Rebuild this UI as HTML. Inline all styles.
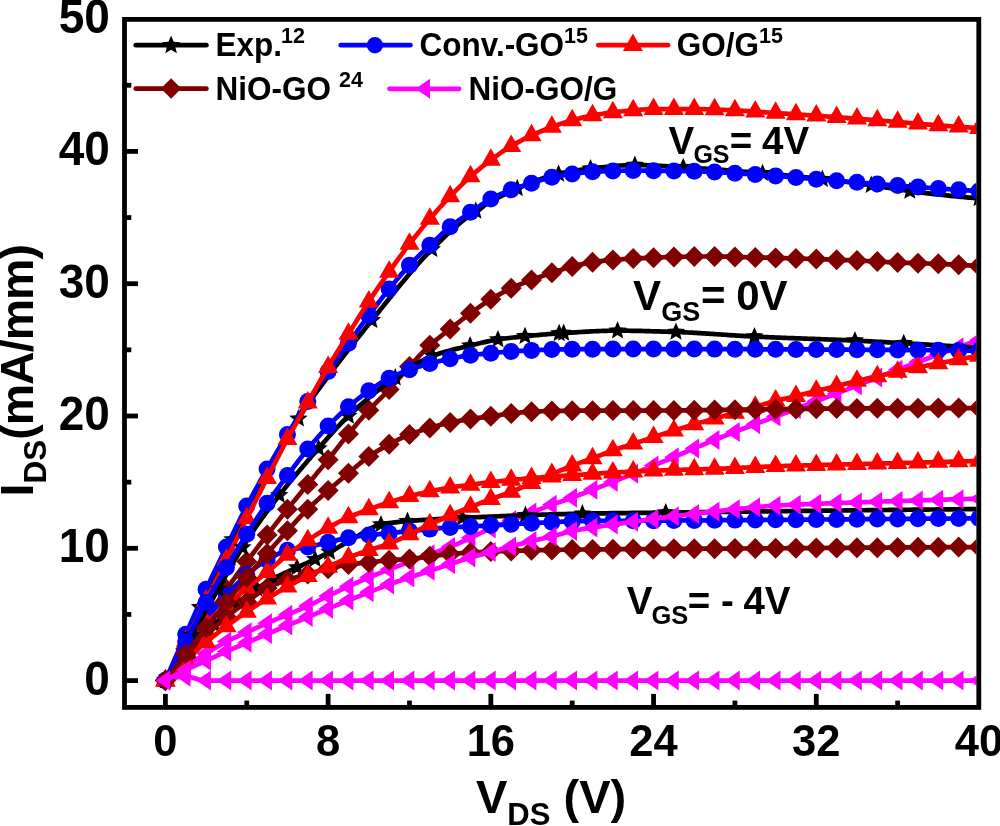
<!DOCTYPE html>
<html><head><meta charset="utf-8"><style>html,body{margin:0;padding:0;background:#fff;}svg{display:block;will-change:transform;}</style></head>
<body><svg width="1000" height="826" viewBox="0 0 1000 826">
<defs><clipPath id="pc"><rect x="126.9" y="21.8" width="849.5" height="683.2"/></clipPath></defs>
<g clip-path="url(#pc)">
<polyline points="165.40,680.60 167.43,676.24 169.47,671.88 171.50,667.53 173.54,663.19 175.57,658.85 177.60,654.52 179.64,650.20 181.67,645.88 183.71,641.57 185.74,637.27 187.77,632.97 189.81,628.68 191.84,624.40 193.88,620.12 195.91,615.85 197.94,611.59 199.98,607.33 202.01,603.08 204.05,598.84 206.08,594.61 208.11,590.37 210.15,586.12 212.18,581.86 214.22,577.60 216.25,573.33 218.28,569.07 220.32,564.81 222.35,560.56 224.39,556.32 226.42,552.10 228.45,547.89 230.49,543.70 232.52,539.53 234.56,535.39 236.59,531.28 238.62,527.20 240.66,523.15 242.69,519.15 244.73,515.18 246.76,511.26 248.79,507.36 250.83,503.47 252.86,499.59 254.90,495.71 256.93,491.85 258.96,488.01 261.00,484.18 263.03,480.36 265.07,476.57 267.10,472.79 269.13,469.04 271.17,465.31 273.20,461.61 275.24,457.94 277.27,454.30 279.30,450.69 281.34,447.11 283.37,443.57 285.41,440.07 287.44,436.60 289.47,433.18 291.51,429.80 293.54,426.46 295.58,423.17 297.61,419.93 299.64,416.74 301.68,413.61 303.71,410.53 305.75,407.50 307.78,404.52 309.81,401.58 311.85,398.68 313.88,395.81 315.92,392.97 317.95,390.16 319.98,387.37 322.02,384.59 324.05,381.82 326.09,379.06 328.12,376.31 330.15,373.56 332.19,370.84 334.22,368.13 336.26,365.44 338.29,362.76 340.32,360.10 342.36,357.45 344.39,354.82 346.43,352.20 348.46,349.59 350.49,347.00 352.53,344.42 354.56,341.84 356.60,339.28 358.63,336.73 360.66,334.18 362.70,331.65 364.73,329.12 366.77,326.59 368.80,324.08 370.83,321.56 372.87,319.05 374.90,316.52 376.94,313.98 378.97,311.44 381.00,308.89 383.04,306.35 385.07,303.80 387.11,301.25 389.14,298.71 391.17,296.17 393.21,293.64 395.24,291.11 397.28,288.60 399.31,286.10 401.34,283.61 403.38,281.14 405.41,278.69 407.45,276.26 409.48,273.85 411.51,271.47 413.55,269.10 415.58,266.77 417.62,264.47 419.65,262.19 421.68,259.95 423.72,257.74 425.75,255.57 427.79,253.44 429.82,251.35 431.85,249.30 433.89,247.28 435.92,245.26 437.96,243.26 439.99,241.28 442.02,239.30 444.06,237.35 446.09,235.42 448.13,233.51 450.16,231.63 452.19,229.77 454.23,227.95 456.26,226.15 458.30,224.39 460.33,222.66 462.36,220.97 464.40,219.32 466.43,217.72 468.47,216.16 470.50,214.64 472.53,213.17 474.57,211.76 476.60,210.39 478.64,209.06 480.67,207.75 482.70,206.47 484.74,205.22 486.77,203.99 488.81,202.79 490.84,201.61 492.87,200.46 494.91,199.33 496.94,198.22 498.98,197.14 501.01,196.09 503.04,195.05 505.08,194.04 507.11,193.05 509.15,192.09 511.18,191.15 513.21,190.22 515.25,189.32 517.28,188.44 519.32,187.58 521.35,186.72 523.38,185.86 525.42,185.02 527.45,184.18 529.49,183.36 531.52,182.55 533.55,181.76 535.59,180.98 537.62,180.22 539.66,179.48 541.69,178.77 543.72,178.07 545.76,177.41 547.79,176.77 549.83,176.16 551.86,175.57 553.89,175.03 555.93,174.51 557.96,174.03 560.00,173.58 562.03,173.14 564.06,172.73 566.10,172.32 568.13,171.93 570.17,171.56 572.20,171.20 574.23,170.85 576.27,170.52 578.30,170.20 580.34,169.90 582.37,169.61 584.40,169.34 586.44,169.08 588.47,168.83 590.51,168.60 592.54,168.37 594.57,168.14 596.61,167.91 598.64,167.68 600.68,167.45 602.71,167.23 604.74,167.01 606.78,166.79 608.81,166.58 610.85,166.38 612.88,166.18 614.91,166.00 616.95,165.83 618.98,165.67 621.02,165.52 623.05,165.40 625.08,165.28 627.12,165.19 629.15,165.12 631.19,165.07 633.22,165.03 635.25,165.03 637.29,165.04 639.32,165.06 641.36,165.10 643.39,165.14 645.42,165.20 647.46,165.27 649.49,165.35 651.53,165.43 653.56,165.53 655.59,165.63 657.63,165.73 659.66,165.84 661.70,165.96 663.73,166.08 665.76,166.21 667.80,166.33 669.83,166.46 671.87,166.59 673.90,166.71 675.93,166.84 677.97,166.97 680.00,167.09 682.04,167.21 684.07,167.32 686.10,167.44 688.14,167.56 690.17,167.68 692.21,167.81 694.24,167.93 696.27,168.06 698.31,168.19 700.34,168.33 702.38,168.47 704.41,168.60 706.44,168.75 708.48,168.89 710.51,169.03 712.55,169.18 714.58,169.33 716.61,169.48 718.65,169.63 720.68,169.79 722.72,169.94 724.75,170.10 726.78,170.26 728.82,170.42 730.85,170.58 732.89,170.74 734.92,170.91 736.95,171.07 738.99,171.24 741.02,171.40 743.06,171.57 745.09,171.74 747.12,171.91 749.16,172.08 751.19,172.26 753.23,172.43 755.26,172.60 757.29,172.78 759.33,172.95 761.36,173.12 763.40,173.30 765.43,173.48 767.46,173.66 769.50,173.84 771.53,174.02 773.57,174.21 775.60,174.40 777.63,174.59 779.67,174.78 781.70,174.97 783.74,175.17 785.77,175.36 787.80,175.56 789.84,175.76 791.87,175.97 793.91,176.17 795.94,176.38 797.97,176.58 800.01,176.79 802.04,177.00 804.08,177.22 806.11,177.43 808.14,177.64 810.18,177.86 812.21,178.08 814.25,178.30 816.28,178.52 818.31,178.74 820.35,178.96 822.38,179.18 824.42,179.41 826.45,179.63 828.48,179.86 830.52,180.09 832.55,180.32 834.59,180.56 836.62,180.79 838.65,181.03 840.69,181.27 842.72,181.51 844.76,181.75 846.79,182.00 848.82,182.24 850.86,182.49 852.89,182.75 854.93,183.00 856.96,183.26 858.99,183.52 861.03,183.78 863.06,184.05 865.10,184.32 867.13,184.59 869.16,184.86 871.20,185.14 873.23,185.42 875.27,185.72 877.30,186.02 879.33,186.34 881.37,186.66 883.40,186.99 885.44,187.32 887.47,187.66 889.50,187.99 891.54,188.33 893.57,188.66 895.61,188.99 897.64,189.32 899.67,189.64 901.71,189.95 903.74,190.25 905.78,190.54 907.81,190.82 909.84,191.09 911.88,191.35 913.91,191.60 915.95,191.86 917.98,192.11 920.01,192.36 922.05,192.61 924.08,192.86 926.12,193.10 928.15,193.35 930.18,193.59 932.22,193.82 934.25,194.06 936.29,194.29 938.32,194.52 940.35,194.75 942.39,194.97 944.42,195.19 946.46,195.41 948.49,195.62 950.52,195.83 952.56,196.04 954.59,196.24 956.63,196.44 958.66,196.64 960.69,196.83 962.73,197.02 964.76,197.20 966.80,197.38 968.83,197.56 970.86,197.73 972.90,197.89 974.93,198.06 976.97,198.21 979.00,198.37" fill="none" stroke="#000000" stroke-width="4.7" stroke-linejoin="round"/>
<polygon points="165.40,671.00 167.94,677.11 174.53,677.63 169.51,681.93 171.04,688.37 165.40,684.92 159.76,688.37 161.29,681.93 156.27,677.63 162.86,677.11" fill="#000"/>
<polygon points="199.98,597.73 202.52,603.84 209.11,604.37 204.09,608.67 205.62,615.10 199.98,611.65 194.34,615.10 195.87,608.67 190.85,604.37 197.44,603.84" fill="#000"/>
<polygon points="232.52,529.93 235.06,536.04 241.65,536.57 236.63,540.87 238.16,547.30 232.52,543.85 226.88,547.30 228.41,540.87 223.39,536.57 229.98,536.04" fill="#000"/>
<polygon points="298.42,409.05 300.96,415.15 307.55,415.68 302.53,419.98 304.07,426.41 298.42,422.97 292.78,426.41 294.32,419.98 289.29,415.68 295.88,415.15" fill="#000"/>
<polygon points="371.85,310.71 374.39,316.81 380.98,317.34 375.96,321.64 377.49,328.07 371.85,324.63 366.21,328.07 367.74,321.64 362.72,317.34 369.31,316.81" fill="#000"/>
<polygon points="431.85,239.70 434.39,245.81 440.98,246.34 435.96,250.64 437.50,257.07 431.85,253.62 426.21,257.07 427.75,250.64 422.72,246.34 429.31,245.81" fill="#000"/>
<polygon points="475.79,201.34 478.33,207.44 484.92,207.97 479.90,212.27 481.43,218.70 475.79,215.25 470.15,218.70 471.68,212.27 466.66,207.97 473.25,207.44" fill="#000"/>
<polygon points="517.28,178.84 519.82,184.95 526.41,185.48 521.39,189.78 522.92,196.21 517.28,192.76 511.64,196.21 513.17,189.78 508.15,185.48 514.74,184.95" fill="#000"/>
<polygon points="558.57,164.29 561.11,170.40 567.70,170.92 562.68,175.23 564.21,181.66 558.57,178.21 552.93,181.66 554.46,175.23 549.44,170.92 556.03,170.40" fill="#000"/>
<polygon points="590.51,159.00 593.05,165.10 599.64,165.63 594.61,169.93 596.15,176.37 590.51,172.92 584.86,176.37 586.40,169.93 581.38,165.63 587.97,165.10" fill="#000"/>
<polygon points="634.85,155.43 637.39,161.53 643.98,162.06 638.96,166.36 640.49,172.79 634.85,169.35 629.20,172.79 630.74,166.36 625.72,162.06 632.31,161.53" fill="#000"/>
<polygon points="683.26,157.68 685.80,163.78 692.39,164.31 687.36,168.61 688.90,175.04 683.26,171.60 677.61,175.04 679.15,168.61 674.13,164.31 680.72,163.78" fill="#000"/>
<polygon points="762.58,163.63 765.12,169.73 771.71,170.26 766.69,174.56 768.23,181.00 762.58,177.55 756.94,181.00 758.47,174.56 753.45,170.26 760.04,169.73" fill="#000"/>
<polygon points="822.38,169.58 824.92,175.69 831.51,176.22 826.49,180.52 828.02,186.95 822.38,183.50 816.74,186.95 818.27,180.52 813.25,176.22 819.84,175.69" fill="#000"/>
<polygon points="871.20,175.54 873.74,181.64 880.33,182.17 875.31,186.47 876.84,192.90 871.20,189.46 865.56,192.90 867.09,186.47 862.07,182.17 868.66,181.64" fill="#000"/>
<polygon points="909.84,181.49 912.38,187.60 918.97,188.12 913.95,192.42 915.49,198.86 909.84,195.41 904.20,198.86 905.74,192.42 900.71,188.12 907.30,187.60" fill="#000"/>
<polygon points="979.00,188.77 981.54,194.87 988.13,195.40 983.11,199.70 984.64,206.13 979.00,202.69 973.36,206.13 974.89,199.70 969.87,195.40 976.46,194.87" fill="#000"/>
<polyline points="165.40,680.60 167.43,675.91 169.47,671.23 171.50,666.57 173.54,661.92 175.57,657.28 177.60,652.66 179.64,648.05 181.67,643.45 183.71,638.87 185.74,634.30 187.77,629.73 189.81,625.17 191.84,620.62 193.88,616.08 195.91,611.55 197.94,607.05 199.98,602.57 202.01,598.11 204.05,593.69 206.08,589.31 208.11,584.97 210.15,580.66 212.18,576.38 214.22,572.13 216.25,567.90 218.28,563.69 220.32,559.50 222.35,555.32 224.39,551.14 226.42,546.98 228.45,542.80 230.49,538.62 232.52,534.45 234.56,530.28 236.59,526.13 238.62,522.01 240.66,517.92 242.69,513.88 244.73,509.89 246.76,505.96 248.79,502.09 250.83,498.27 252.86,494.49 254.90,490.74 256.93,487.04 258.96,483.36 261.00,479.71 263.03,476.09 265.07,472.50 267.10,468.92 269.13,465.37 271.17,461.86 273.20,458.37 275.24,454.91 277.27,451.48 279.30,448.06 281.34,444.66 283.37,441.27 285.41,437.90 287.44,434.52 289.47,431.15 291.51,427.77 293.54,424.40 295.58,421.04 297.61,417.69 299.64,414.37 301.68,411.08 303.71,407.83 305.75,404.61 307.78,401.45 309.81,398.33 311.85,395.25 313.88,392.20 315.92,389.19 317.95,386.21 319.98,383.24 322.02,380.30 324.05,377.37 326.09,374.46 328.12,371.55 330.15,368.65 332.19,365.78 334.22,362.92 336.26,360.09 338.29,357.26 340.32,354.45 342.36,351.64 344.39,348.84 346.43,346.04 348.46,343.24 350.49,340.43 352.53,337.62 354.56,334.82 356.60,332.02 358.63,329.23 360.66,326.44 362.70,323.67 364.73,320.91 366.77,318.17 368.80,315.45 370.83,312.74 372.87,310.03 374.90,307.33 376.94,304.64 378.97,301.97 381.00,299.31 383.04,296.68 385.07,294.09 387.11,291.52 389.14,288.99 391.17,286.49 393.21,284.00 395.24,281.53 397.28,279.08 399.31,276.66 401.34,274.27 403.38,271.92 405.41,269.62 407.45,267.37 409.48,265.18 411.51,263.04 413.55,260.96 415.58,258.92 417.62,256.91 419.65,254.94 421.68,253.00 423.72,251.07 425.75,249.16 427.79,247.25 429.82,245.33 431.85,243.41 433.89,241.48 435.92,239.54 437.96,237.62 439.99,235.71 442.02,233.84 444.06,232.00 446.09,230.21 448.13,228.48 450.16,226.81 452.19,225.21 454.23,223.65 456.26,222.14 458.30,220.67 460.33,219.23 462.36,217.81 464.40,216.41 466.43,215.02 468.47,213.64 470.50,212.26 472.53,210.86 474.57,209.46 476.60,208.05 478.64,206.65 480.67,205.27 482.70,203.92 484.74,202.61 486.77,201.35 488.81,200.16 490.84,199.03 492.87,197.96 494.91,196.92 496.94,195.91 498.98,194.94 501.01,194.00 503.04,193.09 505.08,192.22 507.11,191.37 509.15,190.55 511.18,189.77 513.21,189.01 515.25,188.29 517.28,187.60 519.32,186.93 521.35,186.28 523.38,185.64 525.42,185.02 527.45,184.40 529.49,183.78 531.52,183.15 533.55,182.52 535.59,181.87 537.62,181.21 539.66,180.56 541.69,179.92 543.72,179.30 545.76,178.71 547.79,178.16 549.83,177.65 551.86,177.20 553.89,176.78 555.93,176.39 557.96,176.02 560.00,175.67 562.03,175.34 564.06,175.02 566.10,174.72 568.13,174.43 570.17,174.15 572.20,173.89 574.23,173.63 576.27,173.38 578.30,173.13 580.34,172.88 582.37,172.65 584.40,172.44 586.44,172.24 588.47,172.06 590.51,171.90 592.54,171.77 594.57,171.66 596.61,171.56 598.64,171.47 600.68,171.38 602.71,171.30 604.74,171.23 606.78,171.16 608.81,171.09 610.85,171.04 612.88,170.98 614.91,170.93 616.95,170.87 618.98,170.82 621.02,170.76 623.05,170.72 625.08,170.67 627.12,170.64 629.15,170.61 631.19,170.59 633.22,170.58 635.25,170.59 637.29,170.59 639.32,170.60 641.36,170.61 643.39,170.63 645.42,170.64 647.46,170.66 649.49,170.68 651.53,170.70 653.56,170.72 655.59,170.73 657.63,170.75 659.66,170.77 661.70,170.79 663.73,170.81 665.76,170.83 667.80,170.85 669.83,170.87 671.87,170.89 673.90,170.92 675.93,170.94 677.97,170.97 680.00,171.00 682.04,171.03 684.07,171.06 686.10,171.09 688.14,171.13 690.17,171.17 692.21,171.20 694.24,171.25 696.27,171.29 698.31,171.35 700.34,171.41 702.38,171.49 704.41,171.57 706.44,171.65 708.48,171.75 710.51,171.85 712.55,171.95 714.58,172.06 716.61,172.17 718.65,172.28 720.68,172.40 722.72,172.52 724.75,172.64 726.78,172.76 728.82,172.88 730.85,173.00 732.89,173.11 734.92,173.23 736.95,173.34 738.99,173.46 741.02,173.58 743.06,173.70 745.09,173.82 747.12,173.95 749.16,174.08 751.19,174.21 753.23,174.34 755.26,174.47 757.29,174.60 759.33,174.74 761.36,174.88 763.40,175.01 765.43,175.15 767.46,175.30 769.50,175.44 771.53,175.58 773.57,175.73 775.60,175.88 777.63,176.02 779.67,176.18 781.70,176.33 783.74,176.49 785.77,176.65 787.80,176.82 789.84,176.98 791.87,177.15 793.91,177.32 795.94,177.49 797.97,177.66 800.01,177.83 802.04,178.01 804.08,178.18 806.11,178.35 808.14,178.52 810.18,178.69 812.21,178.85 814.25,179.02 816.28,179.18 818.31,179.34 820.35,179.51 822.38,179.67 824.42,179.83 826.45,179.99 828.48,180.15 830.52,180.30 832.55,180.46 834.59,180.62 836.62,180.78 838.65,180.94 840.69,181.09 842.72,181.25 844.76,181.41 846.79,181.57 848.82,181.73 850.86,181.88 852.89,182.04 854.93,182.20 856.96,182.36 858.99,182.52 861.03,182.68 863.06,182.84 865.10,183.00 867.13,183.16 869.16,183.32 871.20,183.48 873.23,183.64 875.27,183.80 877.30,183.96 879.33,184.12 881.37,184.28 883.40,184.44 885.44,184.60 887.47,184.76 889.50,184.92 891.54,185.07 893.57,185.23 895.61,185.38 897.64,185.53 899.67,185.68 901.71,185.84 903.74,185.99 905.78,186.14 907.81,186.29 909.84,186.43 911.88,186.58 913.91,186.73 915.95,186.88 917.98,187.02 920.01,187.17 922.05,187.31 924.08,187.46 926.12,187.60 928.15,187.74 930.18,187.88 932.22,188.02 934.25,188.17 936.29,188.31 938.32,188.44 940.35,188.58 942.39,188.72 944.42,188.86 946.46,188.99 948.49,189.13 950.52,189.26 952.56,189.40 954.59,189.53 956.63,189.67 958.66,189.80 960.69,189.93 962.73,190.06 964.76,190.19 966.80,190.32 968.83,190.45 970.86,190.58 972.90,190.71 974.93,190.84 976.97,190.96 979.00,191.09" fill="none" stroke="#0000ff" stroke-width="4.7" stroke-linejoin="round"/>
<circle cx="165.40" cy="680.60" r="8.5" fill="#0000ff"/>
<circle cx="185.74" cy="634.30" r="8.5" fill="#0000ff"/>
<circle cx="206.08" cy="589.31" r="8.5" fill="#0000ff"/>
<circle cx="226.42" cy="546.98" r="8.5" fill="#0000ff"/>
<circle cx="246.76" cy="505.96" r="8.5" fill="#0000ff"/>
<circle cx="267.10" cy="468.92" r="8.5" fill="#0000ff"/>
<circle cx="287.44" cy="434.52" r="8.5" fill="#0000ff"/>
<circle cx="307.78" cy="401.45" r="8.5" fill="#0000ff"/>
<circle cx="328.12" cy="371.55" r="8.5" fill="#0000ff"/>
<circle cx="348.46" cy="343.24" r="8.5" fill="#0000ff"/>
<circle cx="368.80" cy="315.45" r="8.5" fill="#0000ff"/>
<circle cx="389.14" cy="288.99" r="8.5" fill="#0000ff"/>
<circle cx="409.48" cy="265.18" r="8.5" fill="#0000ff"/>
<circle cx="429.82" cy="245.33" r="8.5" fill="#0000ff"/>
<circle cx="450.16" cy="226.81" r="8.5" fill="#0000ff"/>
<circle cx="470.50" cy="212.26" r="8.5" fill="#0000ff"/>
<circle cx="490.84" cy="199.03" r="8.5" fill="#0000ff"/>
<circle cx="511.18" cy="189.77" r="8.5" fill="#0000ff"/>
<circle cx="531.52" cy="183.15" r="8.5" fill="#0000ff"/>
<circle cx="551.86" cy="177.20" r="8.5" fill="#0000ff"/>
<circle cx="572.20" cy="173.89" r="8.5" fill="#0000ff"/>
<circle cx="592.54" cy="171.77" r="8.5" fill="#0000ff"/>
<circle cx="612.88" cy="170.98" r="8.5" fill="#0000ff"/>
<circle cx="633.22" cy="170.58" r="8.5" fill="#0000ff"/>
<circle cx="653.56" cy="170.72" r="8.5" fill="#0000ff"/>
<circle cx="673.90" cy="170.92" r="8.5" fill="#0000ff"/>
<circle cx="694.24" cy="171.25" r="8.5" fill="#0000ff"/>
<circle cx="714.58" cy="172.06" r="8.5" fill="#0000ff"/>
<circle cx="734.92" cy="173.23" r="8.5" fill="#0000ff"/>
<circle cx="755.26" cy="174.47" r="8.5" fill="#0000ff"/>
<circle cx="775.60" cy="175.88" r="8.5" fill="#0000ff"/>
<circle cx="795.94" cy="177.49" r="8.5" fill="#0000ff"/>
<circle cx="816.28" cy="179.18" r="8.5" fill="#0000ff"/>
<circle cx="836.62" cy="180.78" r="8.5" fill="#0000ff"/>
<circle cx="856.96" cy="182.36" r="8.5" fill="#0000ff"/>
<circle cx="877.30" cy="183.96" r="8.5" fill="#0000ff"/>
<circle cx="897.64" cy="185.53" r="8.5" fill="#0000ff"/>
<circle cx="917.98" cy="187.02" r="8.5" fill="#0000ff"/>
<circle cx="938.32" cy="188.44" r="8.5" fill="#0000ff"/>
<circle cx="958.66" cy="189.80" r="8.5" fill="#0000ff"/>
<circle cx="979.00" cy="191.09" r="8.5" fill="#0000ff"/>
<polyline points="165.40,680.60 167.43,676.66 169.47,672.71 171.50,668.76 173.54,664.80 175.57,660.84 177.60,656.86 179.64,652.89 181.67,648.90 183.71,644.91 185.74,640.91 187.77,636.90 189.81,632.89 191.84,628.87 193.88,624.85 195.91,620.82 197.94,616.78 199.98,612.73 202.01,608.68 204.05,604.62 206.08,600.56 208.11,596.48 210.15,592.40 212.18,588.30 214.22,584.20 216.25,580.09 218.28,575.98 220.32,571.87 222.35,567.76 224.39,563.65 226.42,559.55 228.45,555.44 230.49,551.33 232.52,547.22 234.56,543.11 236.59,539.00 238.62,534.89 240.66,530.79 242.69,526.69 244.73,522.61 246.76,518.53 248.79,514.46 250.83,510.40 252.86,506.34 254.90,502.28 256.93,498.23 258.96,494.19 261.00,490.17 263.03,486.15 265.07,482.16 267.10,478.18 269.13,474.21 271.17,470.25 273.20,466.29 275.24,462.34 277.27,458.41 279.30,454.50 281.34,450.62 283.37,446.76 285.41,442.94 287.44,439.15 289.47,435.41 291.51,431.70 293.54,428.03 295.58,424.38 297.61,420.76 299.64,417.15 301.68,413.56 303.71,409.96 305.75,406.37 307.78,402.77 309.81,399.16 311.85,395.54 313.88,391.92 315.92,388.30 317.95,384.70 319.98,381.11 322.02,377.54 324.05,374.01 326.09,370.51 328.12,367.05 330.15,363.64 332.19,360.26 334.22,356.92 336.26,353.60 338.29,350.31 340.32,347.03 342.36,343.77 344.39,340.51 346.43,337.24 348.46,333.97 350.49,330.69 352.53,327.41 354.56,324.11 356.60,320.83 358.63,317.55 360.66,314.30 362.70,311.06 364.73,307.86 366.77,304.69 368.80,301.56 370.83,298.47 372.87,295.41 374.90,292.38 376.94,289.37 378.97,286.39 381.00,283.43 383.04,280.49 385.07,277.57 387.11,274.68 389.14,271.79 391.17,268.92 393.21,266.07 395.24,263.23 397.28,260.41 399.31,257.61 401.34,254.83 403.38,252.08 405.41,249.36 407.45,246.67 409.48,244.01 411.51,241.38 413.55,238.78 415.58,236.20 417.62,233.64 419.65,231.11 421.68,228.61 423.72,226.13 425.75,223.68 427.79,221.26 429.82,218.87 431.85,216.51 433.89,214.17 435.92,211.85 437.96,209.56 439.99,207.30 442.02,205.06 444.06,202.84 446.09,200.66 448.13,198.51 450.16,196.38 452.19,194.28 454.23,192.20 456.26,190.13 458.30,188.09 460.33,186.08 462.36,184.10 464.40,182.15 466.43,180.24 468.47,178.36 470.50,176.54 472.53,174.75 474.57,172.99 476.60,171.26 478.64,169.57 480.67,167.90 482.70,166.26 484.74,164.65 486.77,163.07 488.81,161.52 490.84,160.00 492.87,158.50 494.91,157.01 496.94,155.54 498.98,154.09 501.01,152.67 503.04,151.28 505.08,149.92 507.11,148.61 509.15,147.33 511.18,146.11 513.21,144.92 515.25,143.77 517.28,142.65 519.32,141.56 521.35,140.50 523.38,139.46 525.42,138.45 527.45,137.45 529.49,136.48 531.52,135.52 533.55,134.58 535.59,133.65 537.62,132.74 539.66,131.85 541.69,130.97 543.72,130.12 545.76,129.28 547.79,128.47 549.83,127.69 551.86,126.92 553.89,126.18 555.93,125.46 557.96,124.75 560.00,124.06 562.03,123.39 564.06,122.73 566.10,122.09 568.13,121.48 570.17,120.88 572.20,120.31 574.23,119.75 576.27,119.20 578.30,118.66 580.34,118.14 582.37,117.63 584.40,117.14 586.44,116.67 588.47,116.22 590.51,115.80 592.54,115.41 594.57,115.05 596.61,114.69 598.64,114.36 600.68,114.03 602.71,113.72 604.74,113.43 606.78,113.15 608.81,112.88 610.85,112.62 612.88,112.37 614.91,112.14 616.95,111.91 618.98,111.69 621.02,111.48 623.05,111.28 625.08,111.08 627.12,110.90 629.15,110.72 631.19,110.55 633.22,110.39 635.25,110.22 637.29,110.05 639.32,109.87 641.36,109.69 643.39,109.53 645.42,109.38 647.46,109.25 649.49,109.15 651.53,109.09 653.56,109.06 655.59,109.06 657.63,109.06 659.66,109.06 661.70,109.06 663.73,109.06 665.76,109.06 667.80,109.06 669.83,109.06 671.87,109.06 673.90,109.06 675.93,109.06 677.97,109.06 680.00,109.06 682.04,109.06 684.07,109.06 686.10,109.06 688.14,109.06 690.17,109.06 692.21,109.06 694.24,109.06 696.27,109.07 698.31,109.09 700.34,109.11 702.38,109.15 704.41,109.19 706.44,109.24 708.48,109.30 710.51,109.36 712.55,109.43 714.58,109.50 716.61,109.58 718.65,109.67 720.68,109.75 722.72,109.84 724.75,109.93 726.78,110.02 728.82,110.12 730.85,110.21 732.89,110.30 734.92,110.39 736.95,110.48 738.99,110.58 741.02,110.69 743.06,110.80 745.09,110.92 747.12,111.05 749.16,111.18 751.19,111.32 753.23,111.46 755.26,111.60 757.29,111.74 759.33,111.89 761.36,112.04 763.40,112.18 765.43,112.33 767.46,112.48 769.50,112.62 771.53,112.76 773.57,112.90 775.60,113.03 777.63,113.16 779.67,113.30 781.70,113.43 783.74,113.56 785.77,113.69 787.80,113.82 789.84,113.94 791.87,114.07 793.91,114.20 795.94,114.33 797.97,114.46 800.01,114.59 802.04,114.73 804.08,114.86 806.11,114.99 808.14,115.13 810.18,115.26 812.21,115.40 814.25,115.54 816.28,115.68 818.31,115.82 820.35,115.96 822.38,116.11 824.42,116.26 826.45,116.40 828.48,116.55 830.52,116.70 832.55,116.85 834.59,117.01 836.62,117.16 838.65,117.31 840.69,117.47 842.72,117.62 844.76,117.78 846.79,117.93 848.82,118.09 850.86,118.25 852.89,118.41 854.93,118.56 856.96,118.72 858.99,118.88 861.03,119.04 863.06,119.20 865.10,119.37 867.13,119.53 869.16,119.69 871.20,119.86 873.23,120.03 875.27,120.19 877.30,120.36 879.33,120.53 881.37,120.69 883.40,120.86 885.44,121.03 887.47,121.20 889.50,121.36 891.54,121.53 893.57,121.70 895.61,121.86 897.64,122.03 899.67,122.20 901.71,122.36 903.74,122.53 905.78,122.70 907.81,122.87 909.84,123.04 911.88,123.21 913.91,123.38 915.95,123.55 917.98,123.72 920.01,123.89 922.05,124.06 924.08,124.22 926.12,124.39 928.15,124.55 930.18,124.71 932.22,124.87 934.25,125.03 936.29,125.18 938.32,125.34 940.35,125.49 942.39,125.64 944.42,125.78 946.46,125.93 948.49,126.08 950.52,126.22 952.56,126.37 954.59,126.51 956.63,126.65 958.66,126.79 960.69,126.93 962.73,127.07 964.76,127.20 966.80,127.34 968.83,127.47 970.86,127.60 972.90,127.73 974.93,127.86 976.97,127.99 979.00,128.12" fill="none" stroke="#ff0000" stroke-width="4.7" stroke-linejoin="round"/>
<polygon points="155.40,686.43 175.40,686.43 165.40,668.93" fill="#ff0000"/>
<polygon points="175.74,646.74 195.74,646.74 185.74,629.24" fill="#ff0000"/>
<polygon points="196.08,606.39 216.08,606.39 206.08,588.89" fill="#ff0000"/>
<polygon points="216.42,565.38 236.42,565.38 226.42,547.88" fill="#ff0000"/>
<polygon points="236.76,524.37 256.76,524.37 246.76,506.87" fill="#ff0000"/>
<polygon points="257.10,484.01 277.10,484.01 267.10,466.51" fill="#ff0000"/>
<polygon points="277.44,444.99 297.44,444.99 287.44,427.49" fill="#ff0000"/>
<polygon points="297.78,408.60 317.78,408.60 307.78,391.10" fill="#ff0000"/>
<polygon points="318.12,372.88 338.12,372.88 328.12,355.38" fill="#ff0000"/>
<polygon points="338.46,339.81 358.46,339.81 348.46,322.31" fill="#ff0000"/>
<polygon points="358.80,307.39 378.80,307.39 368.80,289.89" fill="#ff0000"/>
<polygon points="379.14,277.63 399.14,277.63 389.14,260.13" fill="#ff0000"/>
<polygon points="399.48,249.84 419.48,249.84 409.48,232.34" fill="#ff0000"/>
<polygon points="419.82,224.71 439.82,224.71 429.82,207.21" fill="#ff0000"/>
<polygon points="440.16,202.22 460.16,202.22 450.16,184.72" fill="#ff0000"/>
<polygon points="460.50,182.37 480.50,182.37 470.50,164.87" fill="#ff0000"/>
<polygon points="480.84,165.83 500.84,165.83 490.84,148.33" fill="#ff0000"/>
<polygon points="501.18,151.94 521.18,151.94 511.18,134.44" fill="#ff0000"/>
<polygon points="521.52,141.36 541.52,141.36 531.52,123.86" fill="#ff0000"/>
<polygon points="541.86,132.76 561.86,132.76 551.86,115.26" fill="#ff0000"/>
<polygon points="562.20,126.14 582.20,126.14 572.20,108.64" fill="#ff0000"/>
<polygon points="582.54,121.25 602.54,121.25 592.54,103.75" fill="#ff0000"/>
<polygon points="602.88,118.20 622.88,118.20 612.88,100.70" fill="#ff0000"/>
<polygon points="623.22,116.22 643.22,116.22 633.22,98.72" fill="#ff0000"/>
<polygon points="643.56,114.90 663.56,114.90 653.56,97.40" fill="#ff0000"/>
<polygon points="663.90,114.90 683.90,114.90 673.90,97.40" fill="#ff0000"/>
<polygon points="684.24,114.90 704.24,114.90 694.24,97.40" fill="#ff0000"/>
<polygon points="704.58,115.34 724.58,115.34 714.58,97.84" fill="#ff0000"/>
<polygon points="724.92,116.22 744.92,116.22 734.92,98.72" fill="#ff0000"/>
<polygon points="745.26,117.43 765.26,117.43 755.26,99.93" fill="#ff0000"/>
<polygon points="765.60,118.87 785.60,118.87 775.60,101.37" fill="#ff0000"/>
<polygon points="785.94,120.17 805.94,120.17 795.94,102.67" fill="#ff0000"/>
<polygon points="806.28,121.51 826.28,121.51 816.28,104.01" fill="#ff0000"/>
<polygon points="826.62,122.99 846.62,122.99 836.62,105.49" fill="#ff0000"/>
<polygon points="846.96,124.56 866.96,124.56 856.96,107.06" fill="#ff0000"/>
<polygon points="867.30,126.19 887.30,126.19 877.30,108.69" fill="#ff0000"/>
<polygon points="887.64,127.86 907.64,127.86 897.64,110.36" fill="#ff0000"/>
<polygon points="907.98,129.55 927.98,129.55 917.98,112.05" fill="#ff0000"/>
<polygon points="928.32,131.17 948.32,131.17 938.32,113.67" fill="#ff0000"/>
<polygon points="948.66,132.62 968.66,132.62 958.66,115.12" fill="#ff0000"/>
<polygon points="969.00,133.95 989.00,133.95 979.00,116.45" fill="#ff0000"/>
<polyline points="165.40,680.60 167.43,677.37 169.47,674.14 171.50,670.93 173.54,667.74 175.57,664.56 177.60,661.39 179.64,658.23 181.67,655.09 183.71,651.96 185.74,648.85 187.77,645.75 189.81,642.66 191.84,639.58 193.88,636.52 195.91,633.47 197.94,630.43 199.98,627.41 202.01,624.40 204.05,621.40 206.08,618.42 208.11,615.45 210.15,612.49 212.18,609.55 214.22,606.62 216.25,603.70 218.28,600.80 220.32,597.90 222.35,595.03 224.39,592.16 226.42,589.31 228.45,586.48 230.49,583.65 232.52,580.84 234.56,578.04 236.59,575.26 238.62,572.48 240.66,569.72 242.69,566.98 244.73,564.25 246.76,561.53 248.79,558.83 250.83,556.15 252.86,553.48 254.90,550.83 256.93,548.19 258.96,545.55 261.00,542.93 263.03,540.31 265.07,537.69 267.10,535.07 269.13,532.45 271.17,529.83 273.20,527.21 275.24,524.60 277.27,522.00 279.30,519.40 281.34,516.81 283.37,514.24 285.41,511.68 287.44,509.14 289.47,506.62 291.51,504.12 293.54,501.63 295.58,499.16 297.61,496.70 299.64,494.24 301.68,491.78 303.71,489.33 305.75,486.87 307.78,484.40 309.81,481.93 311.85,479.47 313.88,477.01 315.92,474.55 317.95,472.09 319.98,469.62 322.02,467.15 324.05,464.67 326.09,462.17 328.12,459.66 330.15,457.12 332.19,454.55 334.22,451.96 336.26,449.36 338.29,446.76 340.32,444.16 342.36,441.57 344.39,439.01 346.43,436.48 348.46,433.99 350.49,431.53 352.53,429.08 354.56,426.65 356.60,424.23 358.63,421.84 360.66,419.47 362.70,417.13 364.73,414.82 366.77,412.55 368.80,410.31 370.83,408.13 372.87,406.02 374.90,403.95 376.94,401.91 378.97,399.90 381.00,397.88 383.04,395.85 385.07,393.79 387.11,391.70 389.14,389.54 391.17,387.32 393.21,385.03 395.24,382.71 397.28,380.35 399.31,377.98 401.34,375.61 403.38,373.25 405.41,370.92 407.45,368.62 409.48,366.39 411.51,364.18 413.55,361.97 415.58,359.76 417.62,357.58 419.65,355.42 421.68,353.29 423.72,351.22 425.75,349.19 427.79,347.24 429.82,345.35 431.85,343.54 433.89,341.80 435.92,340.11 437.96,338.46 439.99,336.84 442.02,335.26 444.06,333.68 446.09,332.11 448.13,330.54 450.16,328.95 452.19,327.35 454.23,325.75 456.26,324.15 458.30,322.57 460.33,320.99 462.36,319.42 464.40,317.87 466.43,316.34 468.47,314.83 470.50,313.34 472.53,311.86 474.57,310.38 476.60,308.91 478.64,307.45 480.67,306.02 482.70,304.60 484.74,303.22 486.77,301.87 488.81,300.57 490.84,299.31 492.87,298.09 494.91,296.90 496.94,295.73 498.98,294.58 501.01,293.47 503.04,292.38 505.08,291.32 507.11,290.29 509.15,289.29 511.18,288.33 513.21,287.40 515.25,286.50 517.28,285.62 519.32,284.77 521.35,283.94 523.38,283.13 525.42,282.33 527.45,281.54 529.49,280.77 531.52,280.00 533.55,279.23 535.59,278.48 537.62,277.75 539.66,277.02 541.69,276.30 543.72,275.60 545.76,274.90 547.79,274.21 549.83,273.53 551.86,272.85 553.89,272.17 555.93,271.49 557.96,270.81 560.00,270.14 562.03,269.47 564.06,268.82 566.10,268.20 568.13,267.60 570.17,267.03 572.20,266.50 574.23,266.00 576.27,265.51 578.30,265.03 580.34,264.57 582.37,264.13 584.40,263.71 586.44,263.31 588.47,262.94 590.51,262.59 592.54,262.27 594.57,261.97 596.61,261.68 598.64,261.41 600.68,261.15 602.71,260.91 604.74,260.68 606.78,260.46 608.81,260.25 610.85,260.06 612.88,259.89 614.91,259.72 616.95,259.57 618.98,259.42 621.02,259.28 623.05,259.15 625.08,259.02 627.12,258.90 629.15,258.79 631.19,258.67 633.22,258.56 635.25,258.46 637.29,258.35 639.32,258.25 641.36,258.15 643.39,258.06 645.42,257.97 647.46,257.88 649.49,257.80 651.53,257.72 653.56,257.64 655.59,257.56 657.63,257.49 659.66,257.41 661.70,257.34 663.73,257.27 665.76,257.21 667.80,257.14 669.83,257.08 671.87,257.03 673.90,256.98 675.93,256.93 677.97,256.88 680.00,256.83 682.04,256.78 684.07,256.74 686.10,256.70 688.14,256.66 690.17,256.63 692.21,256.60 694.24,256.58 696.27,256.56 698.31,256.54 700.34,256.52 702.38,256.50 704.41,256.49 706.44,256.47 708.48,256.46 710.51,256.45 712.55,256.45 714.58,256.45 716.61,256.46 718.65,256.49 720.68,256.53 722.72,256.58 724.75,256.65 726.78,256.72 728.82,256.79 730.85,256.86 732.89,256.92 734.92,256.98 736.95,257.02 738.99,257.07 741.02,257.12 743.06,257.17 745.09,257.21 747.12,257.26 749.16,257.30 751.19,257.34 753.23,257.39 755.26,257.43 757.29,257.48 759.33,257.52 761.36,257.57 763.40,257.61 765.43,257.66 767.46,257.70 769.50,257.75 771.53,257.80 773.57,257.85 775.60,257.90 777.63,257.95 779.67,258.01 781.70,258.06 783.74,258.12 785.77,258.17 787.80,258.23 789.84,258.29 791.87,258.34 793.91,258.40 795.94,258.46 797.97,258.52 800.01,258.58 802.04,258.65 804.08,258.71 806.11,258.77 808.14,258.83 810.18,258.90 812.21,258.96 814.25,259.03 816.28,259.09 818.31,259.16 820.35,259.22 822.38,259.29 824.42,259.36 826.45,259.43 828.48,259.49 830.52,259.56 832.55,259.63 834.59,259.70 836.62,259.77 838.65,259.85 840.69,259.92 842.72,259.99 844.76,260.07 846.79,260.15 848.82,260.22 850.86,260.30 852.89,260.38 854.93,260.46 856.96,260.55 858.99,260.63 861.03,260.72 863.06,260.82 865.10,260.92 867.13,261.02 869.16,261.12 871.20,261.23 873.23,261.34 875.27,261.44 877.30,261.55 879.33,261.66 881.37,261.77 883.40,261.87 885.44,261.98 887.47,262.08 889.50,262.18 891.54,262.27 893.57,262.36 895.61,262.45 897.64,262.53 899.67,262.61 901.71,262.68 903.74,262.75 905.78,262.82 907.81,262.88 909.84,262.95 911.88,263.01 913.91,263.07 915.95,263.13 917.98,263.18 920.01,263.24 922.05,263.30 924.08,263.36 926.12,263.42 928.15,263.49 930.18,263.55 932.22,263.62 934.25,263.70 936.29,263.77 938.32,263.86 940.35,263.94 942.39,264.03 944.42,264.12 946.46,264.22 948.49,264.31 950.52,264.41 952.56,264.52 954.59,264.63 956.63,264.74 958.66,264.85 960.69,264.96 962.73,265.08 964.76,265.20 966.80,265.32 968.83,265.45 970.86,265.58 972.90,265.71 974.93,265.84 976.97,265.97 979.00,266.10" fill="none" stroke="#800000" stroke-width="4.7" stroke-linejoin="round"/>
<polygon points="165.40,670.10 175.90,680.60 165.40,691.10 154.90,680.60" fill="#800000"/>
<polygon points="185.74,638.35 196.24,648.85 185.74,659.35 175.24,648.85" fill="#800000"/>
<polygon points="206.08,607.92 216.58,618.42 206.08,628.92 195.58,618.42" fill="#800000"/>
<polygon points="226.42,578.81 236.92,589.31 226.42,599.81 215.92,589.31" fill="#800000"/>
<polygon points="246.76,551.03 257.26,561.53 246.76,572.03 236.26,561.53" fill="#800000"/>
<polygon points="267.10,524.57 277.60,535.07 267.10,545.57 256.60,535.07" fill="#800000"/>
<polygon points="287.44,498.64 297.94,509.14 287.44,519.64 276.94,509.14" fill="#800000"/>
<polygon points="307.78,473.90 318.28,484.40 307.78,494.90 297.28,484.40" fill="#800000"/>
<polygon points="328.12,449.16 338.62,459.66 328.12,470.16 317.62,459.66" fill="#800000"/>
<polygon points="348.46,423.49 358.96,433.99 348.46,444.49 337.96,433.99" fill="#800000"/>
<polygon points="368.80,399.81 379.30,410.31 368.80,420.81 358.30,410.31" fill="#800000"/>
<polygon points="389.14,379.04 399.64,389.54 389.14,400.04 378.64,389.54" fill="#800000"/>
<polygon points="409.48,355.89 419.98,366.39 409.48,376.89 398.98,366.39" fill="#800000"/>
<polygon points="429.82,334.85 440.32,345.35 429.82,355.85 419.32,345.35" fill="#800000"/>
<polygon points="450.16,318.45 460.66,328.95 450.16,339.45 439.66,328.95" fill="#800000"/>
<polygon points="470.50,302.84 481.00,313.34 470.50,323.84 460.00,313.34" fill="#800000"/>
<polygon points="490.84,288.81 501.34,299.31 490.84,309.81 480.34,299.31" fill="#800000"/>
<polygon points="511.18,277.83 521.68,288.33 511.18,298.83 500.68,288.33" fill="#800000"/>
<polygon points="531.52,269.50 542.02,280.00 531.52,290.50 521.02,280.00" fill="#800000"/>
<polygon points="551.86,262.35 562.36,272.85 551.86,283.35 541.36,272.85" fill="#800000"/>
<polygon points="572.20,256.00 582.70,266.50 572.20,277.00 561.70,266.50" fill="#800000"/>
<polygon points="592.54,251.77 603.04,262.27 592.54,272.77 582.04,262.27" fill="#800000"/>
<polygon points="612.88,249.39 623.38,259.89 612.88,270.39 602.38,259.89" fill="#800000"/>
<polygon points="633.22,248.06 643.72,258.56 633.22,269.06 622.72,258.56" fill="#800000"/>
<polygon points="653.56,247.14 664.06,257.64 653.56,268.14 643.06,257.64" fill="#800000"/>
<polygon points="673.90,246.48 684.40,256.98 673.90,267.48 663.40,256.98" fill="#800000"/>
<polygon points="694.24,246.08 704.74,256.58 694.24,267.08 683.74,256.58" fill="#800000"/>
<polygon points="714.58,245.95 725.08,256.45 714.58,266.95 704.08,256.45" fill="#800000"/>
<polygon points="734.92,246.48 745.42,256.98 734.92,267.48 724.42,256.98" fill="#800000"/>
<polygon points="755.26,246.93 765.76,257.43 755.26,267.93 744.76,257.43" fill="#800000"/>
<polygon points="775.60,247.40 786.10,257.90 775.60,268.40 765.10,257.90" fill="#800000"/>
<polygon points="795.94,247.96 806.44,258.46 795.94,268.96 785.44,258.46" fill="#800000"/>
<polygon points="816.28,248.59 826.78,259.09 816.28,269.59 805.78,259.09" fill="#800000"/>
<polygon points="836.62,249.27 847.12,259.77 836.62,270.27 826.12,259.77" fill="#800000"/>
<polygon points="856.96,250.05 867.46,260.55 856.96,271.05 846.46,260.55" fill="#800000"/>
<polygon points="877.30,251.05 887.80,261.55 877.30,272.05 866.80,261.55" fill="#800000"/>
<polygon points="897.64,252.03 908.14,262.53 897.64,273.03 887.14,262.53" fill="#800000"/>
<polygon points="917.98,252.68 928.48,263.18 917.98,273.68 907.48,263.18" fill="#800000"/>
<polygon points="938.32,253.36 948.82,263.86 938.32,274.36 927.82,263.86" fill="#800000"/>
<polygon points="958.66,254.35 969.16,264.85 958.66,275.35 948.16,264.85" fill="#800000"/>
<polygon points="979.00,255.60 989.50,266.10 979.00,276.60 968.50,266.10" fill="#800000"/>
<polyline points="165.40,680.60 167.43,679.05 169.47,677.52 171.50,676.01 173.54,674.52 175.57,673.05 177.60,671.60 179.64,670.18 181.67,668.78 183.71,667.40 185.74,666.05 187.77,664.72 189.81,663.43 191.84,662.16 193.88,660.91 195.91,659.68 197.94,658.46 199.98,657.25 202.01,656.04 204.05,654.83 206.08,653.61 208.11,652.38 210.15,651.13 212.18,649.87 214.22,648.62 216.25,647.37 218.28,646.14 220.32,644.94 222.35,643.77 224.39,642.65 226.42,641.57 228.45,640.55 230.49,639.56 232.52,638.61 234.56,637.69 236.59,636.78 238.62,635.89 240.66,635.00 242.69,634.12 244.73,633.22 246.76,632.31 248.79,631.39 250.83,630.47 252.86,629.54 254.90,628.62 256.93,627.70 258.96,626.78 261.00,625.87 263.03,624.96 265.07,624.07 267.10,623.18 269.13,622.31 271.17,621.45 273.20,620.60 275.24,619.76 277.27,618.92 279.30,618.09 281.34,617.25 283.37,616.41 285.41,615.57 287.44,614.71 289.47,613.86 291.51,613.01 293.54,612.15 295.58,611.30 297.61,610.44 299.64,609.58 301.68,608.70 303.71,607.81 305.75,606.91 307.78,605.98 309.81,605.03 311.85,604.05 313.88,603.05 315.92,602.04 317.95,601.01 319.98,599.98 322.02,598.95 324.05,597.93 326.09,596.92 328.12,595.93 330.15,594.95 332.19,593.98 334.22,593.01 336.26,592.05 338.29,591.09 340.32,590.14 342.36,589.19 344.39,588.26 346.43,587.32 348.46,586.40 350.49,585.49 352.53,584.58 354.56,583.67 356.60,582.77 358.63,581.88 360.66,580.99 362.70,580.12 364.73,579.25 366.77,578.39 368.80,577.54 370.83,576.70 372.87,575.87 374.90,575.05 376.94,574.24 378.97,573.43 381.00,572.63 383.04,571.84 385.07,571.04 387.11,570.26 389.14,569.47 391.17,568.68 393.21,567.91 395.24,567.13 397.28,566.36 399.31,565.60 401.34,564.84 403.38,564.07 405.41,563.31 407.45,562.55 409.48,561.79 411.51,561.03 413.55,560.27 415.58,559.51 417.62,558.76 419.65,558.00 421.68,557.24 423.72,556.49 425.75,555.74 427.79,555.00 429.82,554.25 431.85,553.52 433.89,552.81 435.92,552.10 437.96,551.40 439.99,550.69 442.02,549.99 444.06,549.26 446.09,548.53 448.13,547.77 450.16,546.98 452.19,546.16 454.23,545.31 456.26,544.44 458.30,543.54 460.33,542.62 462.36,541.69 464.40,540.74 466.43,539.78 468.47,538.82 470.50,537.84 472.53,536.87 474.57,535.89 476.60,534.92 478.64,533.96 480.67,533.00 482.70,532.06 484.74,531.13 486.77,530.21 488.81,529.32 490.84,528.46 492.87,527.61 494.91,526.77 496.94,525.94 498.98,525.12 501.01,524.31 503.04,523.50 505.08,522.71 507.11,521.91 509.15,521.13 511.18,520.35 513.21,519.57 515.25,518.79 517.28,518.02 519.32,517.24 521.35,516.47 523.38,515.70 525.42,514.92 527.45,514.14 529.49,513.36 531.52,512.58 533.55,511.79 535.59,511.00 537.62,510.21 539.66,509.42 541.69,508.63 543.72,507.84 545.76,507.06 547.79,506.29 549.83,505.53 551.86,504.77 553.89,504.04 555.93,503.31 557.96,502.60 560.00,501.90 562.03,501.20 564.06,500.50 566.10,499.80 568.13,499.09 570.17,498.37 572.20,497.63 574.23,496.88 576.27,496.11 578.30,495.34 580.34,494.56 582.37,493.78 584.40,492.99 586.44,492.20 588.47,491.40 590.51,490.61 592.54,489.82 594.57,489.04 596.61,488.25 598.64,487.46 600.68,486.67 602.71,485.87 604.74,485.08 606.78,484.28 608.81,483.49 610.85,482.69 612.88,481.89 614.91,481.08 616.95,480.28 618.98,479.48 621.02,478.67 623.05,477.87 625.08,477.06 627.12,476.25 629.15,475.44 631.19,474.63 633.22,473.82 635.25,473.01 637.29,472.20 639.32,471.38 641.36,470.56 643.39,469.74 645.42,468.92 647.46,468.10 649.49,467.27 651.53,466.44 653.56,465.61 655.59,464.78 657.63,463.94 659.66,463.10 661.70,462.26 663.73,461.41 665.76,460.57 667.80,459.71 669.83,458.86 671.87,458.00 673.90,457.15 675.93,456.28 677.97,455.41 680.00,454.54 682.04,453.66 684.07,452.78 686.10,451.90 688.14,451.02 690.17,450.15 692.21,449.28 694.24,448.41 696.27,447.55 698.31,446.70 700.34,445.84 702.38,444.99 704.41,444.14 706.44,443.29 708.48,442.45 710.51,441.61 712.55,440.78 714.58,439.95 716.61,439.12 718.65,438.30 720.68,437.48 722.72,436.67 724.75,435.86 726.78,435.06 728.82,434.25 730.85,433.46 732.89,432.66 734.92,431.88 736.95,431.09 738.99,430.32 741.02,429.55 743.06,428.78 745.09,428.02 747.12,427.25 749.16,426.49 751.19,425.73 753.23,424.97 755.26,424.20 757.29,423.44 759.33,422.67 761.36,421.90 763.40,421.13 765.43,420.37 767.46,419.60 769.50,418.83 771.53,418.06 773.57,417.30 775.60,416.53 777.63,415.76 779.67,415.00 781.70,414.23 783.74,413.47 785.77,412.70 787.80,411.94 789.84,411.17 791.87,410.41 793.91,409.65 795.94,408.88 797.97,408.12 800.01,407.36 802.04,406.60 804.08,405.83 806.11,405.07 808.14,404.30 810.18,403.54 812.21,402.77 814.25,402.01 816.28,401.24 818.31,400.47 820.35,399.70 822.38,398.93 824.42,398.16 826.45,397.39 828.48,396.62 830.52,395.84 832.55,395.07 834.59,394.29 836.62,393.51 838.65,392.73 840.69,391.94 842.72,391.15 844.76,390.36 846.79,389.57 848.82,388.77 850.86,387.98 852.89,387.18 854.93,386.38 856.96,385.58 858.99,384.77 861.03,383.97 863.06,383.17 865.10,382.36 867.13,381.56 869.16,380.76 871.20,379.96 873.23,379.15 875.27,378.35 877.30,377.55 879.33,376.76 881.37,375.96 883.40,375.17 885.44,374.38 887.47,373.59 889.50,372.80 891.54,372.02 893.57,371.24 895.61,370.47 897.64,369.69 899.67,368.93 901.71,368.16 903.74,367.39 905.78,366.63 907.81,365.86 909.84,365.10 911.88,364.34 913.91,363.58 915.95,362.82 917.98,362.06 920.01,361.30 922.05,360.55 924.08,359.79 926.12,359.04 928.15,358.28 930.18,357.53 932.22,356.78 934.25,356.04 936.29,355.29 938.32,354.54 940.35,353.80 942.39,353.06 944.42,352.31 946.46,351.57 948.49,350.84 950.52,350.10 952.56,349.36 954.59,348.63 956.63,347.89 958.66,347.16 960.69,346.43 962.73,345.70 964.76,344.98 966.80,344.25 968.83,343.53 970.86,342.80 972.90,342.08 974.93,341.36 976.97,340.64 979.00,339.93" fill="none" stroke="#ff00ff" stroke-width="4.7" stroke-linejoin="round"/>
<polygon points="170.23,670.60 170.23,690.60 155.73,680.60" fill="#ff00ff"/>
<polygon points="190.57,656.05 190.57,676.05 176.07,666.05" fill="#ff00ff"/>
<polygon points="210.91,643.61 210.91,663.61 196.41,653.61" fill="#ff00ff"/>
<polygon points="231.25,631.57 231.25,651.57 216.75,641.57" fill="#ff00ff"/>
<polygon points="251.59,622.31 251.59,642.31 237.09,632.31" fill="#ff00ff"/>
<polygon points="271.93,613.18 271.93,633.18 257.43,623.18" fill="#ff00ff"/>
<polygon points="292.27,604.71 292.27,624.71 277.77,614.71" fill="#ff00ff"/>
<polygon points="312.61,595.98 312.61,615.98 298.11,605.98" fill="#ff00ff"/>
<polygon points="332.95,585.93 332.95,605.93 318.45,595.93" fill="#ff00ff"/>
<polygon points="353.29,576.40 353.29,596.40 338.79,586.40" fill="#ff00ff"/>
<polygon points="373.63,567.54 373.63,587.54 359.13,577.54" fill="#ff00ff"/>
<polygon points="393.97,559.47 393.97,579.47 379.47,569.47" fill="#ff00ff"/>
<polygon points="414.31,551.79 414.31,571.79 399.81,561.79" fill="#ff00ff"/>
<polygon points="434.65,544.25 434.65,564.25 420.15,554.25" fill="#ff00ff"/>
<polygon points="454.99,536.98 454.99,556.98 440.49,546.98" fill="#ff00ff"/>
<polygon points="475.33,527.84 475.33,547.84 460.83,537.84" fill="#ff00ff"/>
<polygon points="495.67,518.46 495.67,538.46 481.17,528.46" fill="#ff00ff"/>
<polygon points="516.01,510.35 516.01,530.35 501.51,520.35" fill="#ff00ff"/>
<polygon points="536.35,502.58 536.35,522.58 521.85,512.58" fill="#ff00ff"/>
<polygon points="556.69,494.77 556.69,514.77 542.19,504.77" fill="#ff00ff"/>
<polygon points="577.03,487.63 577.03,507.63 562.53,497.63" fill="#ff00ff"/>
<polygon points="597.37,479.82 597.37,499.82 582.87,489.82" fill="#ff00ff"/>
<polygon points="617.71,471.89 617.71,491.89 603.21,481.89" fill="#ff00ff"/>
<polygon points="638.05,463.82 638.05,483.82 623.55,473.82" fill="#ff00ff"/>
<polygon points="658.39,455.61 658.39,475.61 643.89,465.61" fill="#ff00ff"/>
<polygon points="678.73,447.15 678.73,467.15 664.23,457.15" fill="#ff00ff"/>
<polygon points="699.07,438.41 699.07,458.41 684.57,448.41" fill="#ff00ff"/>
<polygon points="719.41,429.95 719.41,449.95 704.91,439.95" fill="#ff00ff"/>
<polygon points="739.75,421.88 739.75,441.88 725.25,431.88" fill="#ff00ff"/>
<polygon points="760.09,414.20 760.09,434.20 745.59,424.20" fill="#ff00ff"/>
<polygon points="780.43,406.53 780.43,426.53 765.93,416.53" fill="#ff00ff"/>
<polygon points="800.77,398.88 800.77,418.88 786.27,408.88" fill="#ff00ff"/>
<polygon points="821.11,391.24 821.11,411.24 806.61,401.24" fill="#ff00ff"/>
<polygon points="841.45,383.51 841.45,403.51 826.95,393.51" fill="#ff00ff"/>
<polygon points="861.79,375.58 861.79,395.58 847.29,385.58" fill="#ff00ff"/>
<polygon points="882.13,367.55 882.13,387.55 867.63,377.55" fill="#ff00ff"/>
<polygon points="902.47,359.69 902.47,379.69 887.97,369.69" fill="#ff00ff"/>
<polygon points="922.81,352.06 922.81,372.06 908.31,362.06" fill="#ff00ff"/>
<polygon points="943.15,344.54 943.15,364.54 928.65,354.54" fill="#ff00ff"/>
<polygon points="963.49,337.16 963.49,357.16 948.99,347.16" fill="#ff00ff"/>
<polygon points="983.83,329.93 983.83,349.93 969.33,339.93" fill="#ff00ff"/>
<polyline points="165.40,680.60 167.43,677.97 169.47,675.35 171.50,672.77 173.54,670.21 175.57,667.67 177.60,665.16 179.64,662.67 181.67,660.22 183.71,657.78 185.74,655.38 187.77,653.00 189.81,650.66 191.84,648.34 193.88,646.05 195.91,643.79 197.94,641.57 199.98,639.37 202.01,637.20 204.05,635.07 206.08,632.97 208.11,630.90 210.15,628.83 212.18,626.79 214.22,624.76 216.25,622.75 218.28,620.77 220.32,618.80 222.35,616.86 224.39,614.94 226.42,613.05 228.45,611.19 230.49,609.36 232.52,607.56 234.56,605.79 236.59,604.05 238.62,602.35 240.66,600.69 242.69,599.06 244.73,597.47 246.76,595.93 248.79,594.42 250.83,592.94 252.86,591.49 254.90,590.07 256.93,588.68 258.96,587.32 261.00,586.00 263.03,584.70 265.07,583.44 267.10,582.21 269.13,581.02 271.17,579.86 273.20,578.73 275.24,577.64 277.27,576.60 279.30,575.59 281.34,574.61 283.37,573.65 285.41,572.72 287.44,571.80 289.47,570.88 291.51,569.97 293.54,569.06 295.58,568.14 297.61,567.20 299.64,566.28 301.68,565.36 303.71,564.46 305.75,563.55 307.78,562.65 309.81,561.73 311.85,560.81 313.88,559.86 315.92,558.89 317.95,557.90 319.98,556.90 322.02,555.88 324.05,554.85 326.09,553.81 328.12,552.75 330.15,551.68 332.19,550.59 334.22,549.47 336.26,548.34 338.29,547.19 340.32,546.04 342.36,544.89 344.39,543.74 346.43,542.60 348.46,541.47 350.49,540.36 352.53,539.23 354.56,538.04 356.60,536.80 358.63,535.54 360.66,534.26 362.70,532.99 364.73,531.74 366.77,530.53 368.80,529.37 370.83,528.28 372.87,527.28 374.90,526.39 376.94,525.61 378.97,524.97 381.00,524.49 383.04,524.10 385.07,523.74 387.11,523.42 389.14,523.12 391.17,522.85 393.21,522.59 395.24,522.36 397.28,522.14 399.31,521.93 401.34,521.73 403.38,521.55 405.41,521.36 407.45,521.18 409.48,521.00 411.51,520.83 413.55,520.66 415.58,520.50 417.62,520.35 419.65,520.20 421.68,520.05 423.72,519.91 425.75,519.78 427.79,519.65 429.82,519.52 431.85,519.40 433.89,519.28 435.92,519.16 437.96,519.04 439.99,518.93 442.02,518.82 444.06,518.71 446.09,518.61 448.13,518.51 450.16,518.42 452.19,518.32 454.23,518.23 456.26,518.14 458.30,518.05 460.33,517.96 462.36,517.87 464.40,517.78 466.43,517.69 468.47,517.60 470.50,517.50 472.53,517.41 474.57,517.32 476.60,517.23 478.64,517.14 480.67,517.04 482.70,516.95 484.74,516.86 486.77,516.77 488.81,516.68 490.84,516.59 492.87,516.50 494.91,516.41 496.94,516.33 498.98,516.24 501.01,516.15 503.04,516.07 505.08,515.99 507.11,515.90 509.15,515.82 511.18,515.74 513.21,515.66 515.25,515.59 517.28,515.51 519.32,515.44 521.35,515.36 523.38,515.29 525.42,515.23 527.45,515.16 529.49,515.09 531.52,515.02 533.55,514.96 535.59,514.89 537.62,514.82 539.66,514.76 541.69,514.69 543.72,514.63 545.76,514.56 547.79,514.50 549.83,514.44 551.86,514.38 553.89,514.32 555.93,514.26 557.96,514.21 560.00,514.15 562.03,514.09 564.06,514.04 566.10,513.99 568.13,513.94 570.17,513.89 572.20,513.84 574.23,513.80 576.27,513.76 578.30,513.71 580.34,513.67 582.37,513.64 584.40,513.60 586.44,513.57 588.47,513.53 590.51,513.50 592.54,513.47 594.57,513.44 596.61,513.41 598.64,513.38 600.68,513.35 602.71,513.32 604.74,513.29 606.78,513.26 608.81,513.24 610.85,513.21 612.88,513.18 614.91,513.16 616.95,513.13 618.98,513.11 621.02,513.09 623.05,513.06 625.08,513.04 627.12,513.02 629.15,512.99 631.19,512.97 633.22,512.95 635.25,512.93 637.29,512.90 639.32,512.88 641.36,512.86 643.39,512.84 645.42,512.81 647.46,512.79 649.49,512.77 651.53,512.75 653.56,512.72 655.59,512.70 657.63,512.68 659.66,512.65 661.70,512.63 663.73,512.60 665.76,512.58 667.80,512.55 669.83,512.53 671.87,512.50 673.90,512.48 675.93,512.45 677.97,512.43 680.00,512.40 682.04,512.38 684.07,512.35 686.10,512.33 688.14,512.30 690.17,512.28 692.21,512.25 694.24,512.23 696.27,512.20 698.31,512.18 700.34,512.15 702.38,512.13 704.41,512.10 706.44,512.08 708.48,512.05 710.51,512.03 712.55,512.01 714.58,511.98 716.61,511.96 718.65,511.93 720.68,511.91 722.72,511.88 724.75,511.86 726.78,511.83 728.82,511.81 730.85,511.78 732.89,511.76 734.92,511.74 736.95,511.71 738.99,511.69 741.02,511.66 743.06,511.64 745.09,511.61 747.12,511.59 749.16,511.57 751.19,511.54 753.23,511.52 755.26,511.49 757.29,511.47 759.33,511.45 761.36,511.42 763.40,511.40 765.43,511.37 767.46,511.35 769.50,511.33 771.53,511.30 773.57,511.28 775.60,511.26 777.63,511.23 779.67,511.21 781.70,511.19 783.74,511.16 785.77,511.14 787.80,511.11 789.84,511.09 791.87,511.07 793.91,511.04 795.94,511.02 797.97,511.00 800.01,510.97 802.04,510.95 804.08,510.93 806.11,510.90 808.14,510.88 810.18,510.86 812.21,510.83 814.25,510.81 816.28,510.79 818.31,510.77 820.35,510.74 822.38,510.72 824.42,510.70 826.45,510.67 828.48,510.65 830.52,510.63 832.55,510.60 834.59,510.58 836.62,510.56 838.65,510.53 840.69,510.51 842.72,510.49 844.76,510.47 846.79,510.44 848.82,510.42 850.86,510.40 852.89,510.37 854.93,510.35 856.96,510.33 858.99,510.31 861.03,510.28 863.06,510.26 865.10,510.24 867.13,510.21 869.16,510.19 871.20,510.17 873.23,510.15 875.27,510.12 877.30,510.10 879.33,510.08 881.37,510.06 883.40,510.03 885.44,510.01 887.47,509.99 889.50,509.97 891.54,509.94 893.57,509.92 895.61,509.90 897.64,509.88 899.67,509.86 901.71,509.83 903.74,509.81 905.78,509.79 907.81,509.77 909.84,509.74 911.88,509.72 913.91,509.70 915.95,509.68 917.98,509.66 920.01,509.63 922.05,509.61 924.08,509.59 926.12,509.57 928.15,509.55 930.18,509.52 932.22,509.50 934.25,509.48 936.29,509.46 938.32,509.44 940.35,509.41 942.39,509.39 944.42,509.37 946.46,509.35 948.49,509.33 950.52,509.31 952.56,509.28 954.59,509.26 956.63,509.24 958.66,509.22 960.69,509.20 962.73,509.18 964.76,509.16 966.80,509.13 968.83,509.11 970.86,509.09 972.90,509.07 974.93,509.05 976.97,509.03 979.00,509.01" fill="none" stroke="#000000" stroke-width="4.7" stroke-linejoin="round"/>
<polygon points="165.40,671.00 167.94,677.11 174.53,677.63 169.51,681.93 171.04,688.37 165.40,684.92 159.76,688.37 161.29,681.93 156.27,677.63 162.86,677.11" fill="#000"/>
<polygon points="189.81,641.06 192.35,647.16 198.94,647.69 193.92,651.99 195.45,658.42 189.81,654.98 184.17,658.42 185.70,651.99 180.68,647.69 187.27,647.16" fill="#000"/>
<polygon points="214.22,615.16 216.76,621.27 223.35,621.79 218.32,626.10 219.86,632.53 214.22,629.08 208.57,632.53 210.11,626.10 205.09,621.79 211.68,621.27" fill="#000"/>
<polygon points="238.62,592.75 241.16,598.86 247.75,599.39 242.73,603.69 244.27,610.12 238.62,606.67 232.98,610.12 234.52,603.69 229.49,599.39 236.08,598.86" fill="#000"/>
<polygon points="256.93,579.08 259.47,585.18 266.06,585.71 261.04,590.01 262.57,596.44 256.93,593.00 251.29,596.44 252.82,590.01 247.80,585.71 254.39,585.18" fill="#000"/>
<polygon points="273.20,569.13 275.74,575.23 282.33,575.76 277.31,580.06 278.84,586.50 273.20,583.05 267.56,586.50 269.09,580.06 264.07,575.76 270.66,575.23" fill="#000"/>
<polygon points="297.00,557.88 299.54,563.99 306.13,564.52 301.11,568.82 302.64,575.25 297.00,571.80 291.36,575.25 292.89,568.82 287.87,564.52 294.46,563.99" fill="#000"/>
<polygon points="315.10,549.68 317.64,555.79 324.23,556.31 319.21,560.62 320.75,567.05 315.10,563.60 309.46,567.05 310.99,560.62 305.97,556.31 312.56,555.79" fill="#000"/>
<polygon points="329.54,542.40 332.08,548.51 338.67,549.04 333.65,553.34 335.19,559.77 329.54,556.32 323.90,559.77 325.44,553.34 320.41,549.04 327.00,548.51" fill="#000"/>
<polygon points="381.00,514.89 383.54,520.99 390.13,521.52 385.11,525.82 386.65,532.25 381.00,528.81 375.36,532.25 376.90,525.82 371.87,521.52 378.46,520.99" fill="#000"/>
<polygon points="407.45,511.58 409.99,517.68 416.58,518.21 411.55,522.51 413.09,528.95 407.45,525.50 401.80,528.95 403.34,522.51 398.32,518.21 404.91,517.68" fill="#000"/>
<polygon points="462.36,508.27 464.90,514.38 471.49,514.90 466.47,519.21 468.01,525.64 462.36,522.19 456.72,525.64 458.26,519.21 453.23,514.90 459.82,514.38" fill="#000"/>
<polygon points="525.42,505.62 527.96,511.73 534.55,512.26 529.53,516.56 531.06,522.99 525.42,519.55 519.78,522.99 521.31,516.56 516.29,512.26 522.88,511.73" fill="#000"/>
<polygon points="582.37,504.04 584.91,510.14 591.50,510.67 586.48,514.97 588.01,521.40 582.37,517.96 576.73,521.40 578.26,514.97 573.24,510.67 579.83,510.14" fill="#000"/>
<polygon points="665.76,502.98 668.30,509.08 674.89,509.61 669.87,513.91 671.41,520.35 665.76,516.90 660.12,520.35 661.66,513.91 656.63,509.61 663.22,509.08" fill="#000"/>
<polygon points="755.26,501.89 757.80,508.00 764.39,508.53 759.37,512.83 760.90,519.26 755.26,515.81 749.62,519.26 751.15,512.83 746.13,508.53 752.72,508.00" fill="#000"/>
<polyline points="165.40,680.60 167.43,677.31 169.47,674.04 171.50,670.79 173.54,667.58 175.57,664.39 177.60,661.22 179.64,658.09 181.67,654.98 183.71,651.90 185.74,648.85 187.77,645.81 189.81,642.78 191.84,639.77 193.88,636.78 195.91,633.82 197.94,630.90 199.98,628.02 202.01,625.20 204.05,622.44 206.08,619.74 208.11,617.10 210.15,614.51 212.18,611.95 214.22,609.44 216.25,606.97 218.28,604.54 220.32,602.16 222.35,599.82 224.39,597.52 226.42,595.27 228.45,593.04 230.49,590.83 232.52,588.64 234.56,586.49 236.59,584.37 238.62,582.31 240.66,580.31 242.69,578.38 244.73,576.53 246.76,574.76 248.79,573.06 250.83,571.39 252.86,569.77 254.90,568.19 256.93,566.66 258.96,565.19 261.00,563.78 263.03,562.43 265.07,561.15 267.10,559.94 269.13,558.77 271.17,557.60 273.20,556.45 275.24,555.33 277.27,554.27 279.30,553.27 281.34,552.36 283.37,551.55 285.41,550.85 287.44,550.28 289.47,549.83 291.51,549.43 293.54,549.09 295.58,548.78 297.61,548.50 299.64,548.22 301.68,547.95 303.71,547.66 305.75,547.34 307.78,546.98 309.81,546.58 311.85,546.15 313.88,545.70 315.92,545.24 317.95,544.76 319.98,544.27 322.02,543.78 324.05,543.30 326.09,542.82 328.12,542.35 330.15,541.87 332.19,541.38 334.22,540.88 336.26,540.37 338.29,539.87 340.32,539.39 342.36,538.92 344.39,538.48 346.43,538.08 348.46,537.72 350.49,537.39 352.53,537.08 354.56,536.79 356.60,536.51 358.63,536.24 360.66,535.99 362.70,535.75 364.73,535.52 366.77,535.29 368.80,535.07 370.83,534.86 372.87,534.66 374.90,534.47 376.94,534.29 378.97,534.12 381.00,533.95 383.04,533.77 385.07,533.59 387.11,533.41 389.14,533.22 391.17,533.02 393.21,532.81 395.24,532.60 397.28,532.38 399.31,532.17 401.34,531.95 403.38,531.73 405.41,531.52 407.45,531.31 409.48,531.10 411.51,530.90 413.55,530.69 415.58,530.49 417.62,530.28 419.65,530.08 421.68,529.88 423.72,529.69 425.75,529.49 427.79,529.30 429.82,529.12 431.85,528.93 433.89,528.74 435.92,528.55 437.96,528.36 439.99,528.18 442.02,528.00 444.06,527.83 446.09,527.67 448.13,527.53 450.16,527.40 452.19,527.28 454.23,527.18 456.26,527.09 458.30,527.00 460.33,526.91 462.36,526.83 464.40,526.75 466.43,526.66 468.47,526.57 470.50,526.47 472.53,526.36 474.57,526.25 476.60,526.13 478.64,526.00 480.67,525.88 482.70,525.75 484.74,525.62 486.77,525.50 488.81,525.39 490.84,525.28 492.87,525.18 494.91,525.08 496.94,524.99 498.98,524.90 501.01,524.82 503.04,524.73 505.08,524.64 507.11,524.55 509.15,524.45 511.18,524.35 513.21,524.25 515.25,524.13 517.28,524.01 519.32,523.88 521.35,523.76 523.38,523.63 525.42,523.51 527.45,523.39 529.49,523.27 531.52,523.16 533.55,523.06 535.59,522.96 537.62,522.87 539.66,522.78 541.69,522.69 543.72,522.60 545.76,522.51 547.79,522.42 549.83,522.33 551.86,522.24 553.89,522.14 555.93,522.03 557.96,521.92 560.00,521.81 562.03,521.70 564.06,521.59 566.10,521.50 568.13,521.42 570.17,521.35 572.20,521.31 574.23,521.28 576.27,521.25 578.30,521.22 580.34,521.19 582.37,521.16 584.40,521.14 586.44,521.11 588.47,521.09 590.51,521.07 592.54,521.05 594.57,521.02 596.61,521.00 598.64,520.98 600.68,520.97 602.71,520.95 604.74,520.93 606.78,520.91 608.81,520.90 610.85,520.88 612.88,520.87 614.91,520.85 616.95,520.84 618.98,520.83 621.02,520.82 623.05,520.80 625.08,520.79 627.12,520.78 629.15,520.77 631.19,520.76 633.22,520.75 635.25,520.74 637.29,520.72 639.32,520.71 641.36,520.70 643.39,520.69 645.42,520.68 647.46,520.67 649.49,520.66 651.53,520.65 653.56,520.64 655.59,520.63 657.63,520.62 659.66,520.61 661.70,520.60 663.73,520.58 665.76,520.57 667.80,520.56 669.83,520.54 671.87,520.53 673.90,520.52 675.93,520.50 677.97,520.49 680.00,520.47 682.04,520.46 684.07,520.45 686.10,520.43 688.14,520.42 690.17,520.41 692.21,520.39 694.24,520.38 696.27,520.37 698.31,520.35 700.34,520.34 702.38,520.33 704.41,520.31 706.44,520.30 708.48,520.29 710.51,520.27 712.55,520.26 714.58,520.25 716.61,520.24 718.65,520.22 720.68,520.21 722.72,520.20 724.75,520.19 726.78,520.17 728.82,520.16 730.85,520.15 732.89,520.13 734.92,520.12 736.95,520.11 738.99,520.10 741.02,520.08 743.06,520.07 745.09,520.06 747.12,520.05 749.16,520.03 751.19,520.02 753.23,520.01 755.26,519.99 757.29,519.98 759.33,519.97 761.36,519.95 763.40,519.94 765.43,519.93 767.46,519.91 769.50,519.90 771.53,519.88 773.57,519.87 775.60,519.86 777.63,519.84 779.67,519.83 781.70,519.81 783.74,519.80 785.77,519.78 787.80,519.77 789.84,519.75 791.87,519.74 793.91,519.73 795.94,519.71 797.97,519.70 800.01,519.68 802.04,519.67 804.08,519.65 806.11,519.64 808.14,519.62 810.18,519.61 812.21,519.59 814.25,519.58 816.28,519.56 818.31,519.55 820.35,519.53 822.38,519.52 824.42,519.50 826.45,519.49 828.48,519.47 830.52,519.46 832.55,519.44 834.59,519.43 836.62,519.41 838.65,519.40 840.69,519.38 842.72,519.37 844.76,519.35 846.79,519.34 848.82,519.32 850.86,519.31 852.89,519.29 854.93,519.28 856.96,519.26 858.99,519.24 861.03,519.23 863.06,519.21 865.10,519.20 867.13,519.18 869.16,519.17 871.20,519.15 873.23,519.14 875.27,519.12 877.30,519.10 879.33,519.09 881.37,519.07 883.40,519.06 885.44,519.04 887.47,519.02 889.50,519.01 891.54,518.99 893.57,518.98 895.61,518.96 897.64,518.94 899.67,518.93 901.71,518.91 903.74,518.89 905.78,518.88 907.81,518.86 909.84,518.85 911.88,518.83 913.91,518.81 915.95,518.80 917.98,518.78 920.01,518.76 922.05,518.75 924.08,518.73 926.12,518.71 928.15,518.70 930.18,518.68 932.22,518.66 934.25,518.65 936.29,518.63 938.32,518.61 940.35,518.60 942.39,518.58 944.42,518.56 946.46,518.55 948.49,518.53 950.52,518.51 952.56,518.49 954.59,518.48 956.63,518.46 958.66,518.44 960.69,518.43 962.73,518.41 964.76,518.39 966.80,518.37 968.83,518.36 970.86,518.34 972.90,518.32 974.93,518.30 976.97,518.29 979.00,518.27" fill="none" stroke="#0000ff" stroke-width="4.7" stroke-linejoin="round"/>
<circle cx="165.40" cy="680.60" r="8.5" fill="#0000ff"/>
<circle cx="185.74" cy="648.85" r="8.5" fill="#0000ff"/>
<circle cx="206.08" cy="619.74" r="8.5" fill="#0000ff"/>
<circle cx="226.42" cy="595.27" r="8.5" fill="#0000ff"/>
<circle cx="246.76" cy="574.76" r="8.5" fill="#0000ff"/>
<circle cx="267.10" cy="559.94" r="8.5" fill="#0000ff"/>
<circle cx="287.44" cy="550.28" r="8.5" fill="#0000ff"/>
<circle cx="307.78" cy="546.98" r="8.5" fill="#0000ff"/>
<circle cx="328.12" cy="542.35" r="8.5" fill="#0000ff"/>
<circle cx="348.46" cy="537.72" r="8.5" fill="#0000ff"/>
<circle cx="368.80" cy="535.07" r="8.5" fill="#0000ff"/>
<circle cx="389.14" cy="533.22" r="8.5" fill="#0000ff"/>
<circle cx="409.48" cy="531.10" r="8.5" fill="#0000ff"/>
<circle cx="429.82" cy="529.12" r="8.5" fill="#0000ff"/>
<circle cx="450.16" cy="527.40" r="8.5" fill="#0000ff"/>
<circle cx="470.50" cy="526.47" r="8.5" fill="#0000ff"/>
<circle cx="490.84" cy="525.28" r="8.5" fill="#0000ff"/>
<circle cx="511.18" cy="524.35" r="8.5" fill="#0000ff"/>
<circle cx="531.52" cy="523.16" r="8.5" fill="#0000ff"/>
<circle cx="551.86" cy="522.24" r="8.5" fill="#0000ff"/>
<circle cx="572.20" cy="521.31" r="8.5" fill="#0000ff"/>
<circle cx="592.54" cy="521.05" r="8.5" fill="#0000ff"/>
<circle cx="612.88" cy="520.87" r="8.5" fill="#0000ff"/>
<circle cx="633.22" cy="520.75" r="8.5" fill="#0000ff"/>
<circle cx="653.56" cy="520.64" r="8.5" fill="#0000ff"/>
<circle cx="673.90" cy="520.52" r="8.5" fill="#0000ff"/>
<circle cx="694.24" cy="520.38" r="8.5" fill="#0000ff"/>
<circle cx="714.58" cy="520.25" r="8.5" fill="#0000ff"/>
<circle cx="734.92" cy="520.12" r="8.5" fill="#0000ff"/>
<circle cx="755.26" cy="519.99" r="8.5" fill="#0000ff"/>
<circle cx="775.60" cy="519.86" r="8.5" fill="#0000ff"/>
<circle cx="795.94" cy="519.71" r="8.5" fill="#0000ff"/>
<circle cx="816.28" cy="519.56" r="8.5" fill="#0000ff"/>
<circle cx="836.62" cy="519.41" r="8.5" fill="#0000ff"/>
<circle cx="856.96" cy="519.26" r="8.5" fill="#0000ff"/>
<circle cx="877.30" cy="519.10" r="8.5" fill="#0000ff"/>
<circle cx="897.64" cy="518.94" r="8.5" fill="#0000ff"/>
<circle cx="917.98" cy="518.78" r="8.5" fill="#0000ff"/>
<circle cx="938.32" cy="518.61" r="8.5" fill="#0000ff"/>
<circle cx="958.66" cy="518.44" r="8.5" fill="#0000ff"/>
<circle cx="979.00" cy="518.27" r="8.5" fill="#0000ff"/>
<polyline points="165.40,680.60 167.43,677.41 169.47,674.26 171.50,671.13 173.54,668.04 175.57,664.98 177.60,661.95 179.64,658.95 181.67,655.99 183.71,653.06 185.74,650.17 187.77,647.27 189.81,644.32 191.84,641.37 193.88,638.44 195.91,635.56 197.94,632.76 199.98,630.06 202.01,627.51 204.05,625.11 206.08,622.92 208.11,620.91 210.15,619.03 212.18,617.28 214.22,615.61 216.25,614.00 218.28,612.42 220.32,610.86 222.35,609.28 224.39,607.67 226.42,605.98 228.45,604.24 230.49,602.48 232.52,600.71 234.56,598.93 236.59,597.14 238.62,595.36 240.66,593.59 242.69,591.83 244.73,590.09 246.76,588.39 248.79,586.71 250.83,585.07 252.86,583.44 254.90,581.83 256.93,580.23 258.96,578.63 261.00,577.02 263.03,575.41 265.07,573.77 267.10,572.11 269.13,570.42 271.17,568.69 273.20,566.93 275.24,565.17 277.27,563.39 279.30,561.63 281.34,559.89 283.37,558.19 285.41,556.52 287.44,554.91 289.47,553.35 291.51,551.82 293.54,550.30 295.58,548.82 297.61,547.35 299.64,545.91 301.68,544.49 303.71,543.10 305.75,541.72 307.78,540.36 309.81,539.02 311.85,537.69 313.88,536.38 315.92,535.09 317.95,533.82 319.98,532.57 322.02,531.34 324.05,530.13 326.09,528.95 328.12,527.79 330.15,526.66 332.19,525.53 334.22,524.43 336.26,523.34 338.29,522.27 340.32,521.22 342.36,520.21 344.39,519.22 346.43,518.26 348.46,517.34 350.49,516.46 352.53,515.60 354.56,514.77 356.60,513.96 358.63,513.18 360.66,512.40 362.70,511.64 364.73,510.89 366.77,510.15 368.80,509.40 370.83,508.66 372.87,507.93 374.90,507.21 376.94,506.50 378.97,505.79 381.00,505.09 383.04,504.41 385.07,503.73 387.11,503.06 389.14,502.39 391.17,501.73 393.21,501.07 395.24,500.42 397.28,499.77 399.31,499.13 401.34,498.51 403.38,497.89 405.41,497.30 407.45,496.73 409.48,496.17 411.51,495.64 413.55,495.12 415.58,494.62 417.62,494.13 419.65,493.65 421.68,493.18 423.72,492.72 425.75,492.28 427.79,491.84 429.82,491.41 431.85,490.99 433.89,490.57 435.92,490.16 437.96,489.76 439.99,489.36 442.02,488.98 444.06,488.61 446.09,488.25 448.13,487.90 450.16,487.57 452.19,487.26 454.23,486.96 456.26,486.67 458.30,486.39 460.33,486.12 462.36,485.85 464.40,485.59 466.43,485.33 468.47,485.06 470.50,484.80 472.53,484.52 474.57,484.25 476.60,483.97 478.64,483.70 480.67,483.43 482.70,483.16 484.74,482.90 486.77,482.64 488.81,482.39 490.84,482.15 492.87,481.92 494.91,481.69 496.94,481.47 498.98,481.26 501.01,481.04 503.04,480.84 505.08,480.63 507.11,480.43 509.15,480.23 511.18,480.03 513.21,479.84 515.25,479.64 517.28,479.45 519.32,479.26 521.35,479.07 523.38,478.89 525.42,478.71 527.45,478.53 529.49,478.35 531.52,478.18 533.55,478.01 535.59,477.84 537.62,477.68 539.66,477.51 541.69,477.35 543.72,477.20 545.76,477.04 547.79,476.89 549.83,476.74 551.86,476.59 553.89,476.45 555.93,476.31 557.96,476.18 560.00,476.05 562.03,475.92 564.06,475.79 566.10,475.66 568.13,475.53 570.17,475.40 572.20,475.27 574.23,475.14 576.27,475.00 578.30,474.86 580.34,474.73 582.37,474.59 584.40,474.45 586.44,474.30 588.47,474.16 590.51,474.02 592.54,473.88 594.57,473.75 596.61,473.61 598.64,473.48 600.68,473.34 602.71,473.22 604.74,473.09 606.78,472.97 608.81,472.85 610.85,472.73 612.88,472.62 614.91,472.52 616.95,472.41 618.98,472.31 621.02,472.20 623.05,472.10 625.08,472.00 627.12,471.90 629.15,471.80 631.19,471.70 633.22,471.61 635.25,471.51 637.29,471.42 639.32,471.32 641.36,471.23 643.39,471.14 645.42,471.05 647.46,470.97 649.49,470.88 651.53,470.80 653.56,470.72 655.59,470.63 657.63,470.55 659.66,470.48 661.70,470.40 663.73,470.33 665.76,470.25 667.80,470.18 669.83,470.11 671.87,470.04 673.90,469.98 675.93,469.92 677.97,469.86 680.00,469.80 682.04,469.74 684.07,469.69 686.10,469.64 688.14,469.59 690.17,469.54 692.21,469.50 694.24,469.45 696.27,469.40 698.31,469.36 700.34,469.31 702.38,469.26 704.41,469.21 706.44,469.15 708.48,469.10 710.51,469.04 712.55,468.98 714.58,468.92 716.61,468.85 718.65,468.78 720.68,468.71 722.72,468.63 724.75,468.54 726.78,468.46 728.82,468.37 730.85,468.28 732.89,468.19 734.92,468.09 736.95,468.00 738.99,467.90 741.02,467.80 743.06,467.71 745.09,467.61 747.12,467.51 749.16,467.41 751.19,467.31 753.23,467.21 755.26,467.12 757.29,467.02 759.33,466.93 761.36,466.84 763.40,466.75 765.43,466.66 767.46,466.58 769.50,466.49 771.53,466.42 773.57,466.34 775.60,466.27 777.63,466.21 779.67,466.14 781.70,466.08 783.74,466.01 785.77,465.95 787.80,465.89 789.84,465.83 791.87,465.77 793.91,465.71 795.94,465.65 797.97,465.59 800.01,465.54 802.04,465.48 804.08,465.43 806.11,465.37 808.14,465.32 810.18,465.27 812.21,465.21 814.25,465.16 816.28,465.11 818.31,465.06 820.35,465.01 822.38,464.96 824.42,464.91 826.45,464.86 828.48,464.81 830.52,464.76 832.55,464.71 834.59,464.66 836.62,464.62 838.65,464.57 840.69,464.52 842.72,464.47 844.76,464.42 846.79,464.38 848.82,464.33 850.86,464.28 852.89,464.23 854.93,464.18 856.96,464.13 858.99,464.08 861.03,464.04 863.06,463.99 865.10,463.94 867.13,463.89 869.16,463.84 871.20,463.78 873.23,463.73 875.27,463.68 877.30,463.63 879.33,463.58 881.37,463.52 883.40,463.47 885.44,463.42 887.47,463.36 889.50,463.31 891.54,463.26 893.57,463.20 895.61,463.15 897.64,463.10 899.67,463.05 901.71,462.99 903.74,462.94 905.78,462.89 907.81,462.83 909.84,462.78 911.88,462.73 913.91,462.68 915.95,462.62 917.98,462.57 920.01,462.52 922.05,462.46 924.08,462.41 926.12,462.36 928.15,462.31 930.18,462.25 932.22,462.20 934.25,462.15 936.29,462.09 938.32,462.04 940.35,461.99 942.39,461.93 944.42,461.88 946.46,461.83 948.49,461.78 950.52,461.72 952.56,461.67 954.59,461.62 956.63,461.56 958.66,461.51 960.69,461.46 962.73,461.41 964.76,461.35 966.80,461.30 968.83,461.25 970.86,461.19 972.90,461.14 974.93,461.09 976.97,461.03 979.00,460.98" fill="none" stroke="#ff0000" stroke-width="4.7" stroke-linejoin="round"/>
<polygon points="155.40,686.43 175.40,686.43 165.40,668.93" fill="#ff0000"/>
<polygon points="175.74,656.00 195.74,656.00 185.74,638.50" fill="#ff0000"/>
<polygon points="196.08,628.75 216.08,628.75 206.08,611.25" fill="#ff0000"/>
<polygon points="216.42,611.82 236.42,611.82 226.42,594.32" fill="#ff0000"/>
<polygon points="236.76,594.22 256.76,594.22 246.76,576.72" fill="#ff0000"/>
<polygon points="257.10,577.95 277.10,577.95 267.10,560.45" fill="#ff0000"/>
<polygon points="277.44,560.75 297.44,560.75 287.44,543.25" fill="#ff0000"/>
<polygon points="297.78,546.20 317.78,546.20 307.78,528.70" fill="#ff0000"/>
<polygon points="318.12,533.63 338.12,533.63 328.12,516.13" fill="#ff0000"/>
<polygon points="338.46,523.18 358.46,523.18 348.46,505.68" fill="#ff0000"/>
<polygon points="358.80,515.24 378.80,515.24 368.80,497.74" fill="#ff0000"/>
<polygon points="379.14,508.23 399.14,508.23 389.14,490.73" fill="#ff0000"/>
<polygon points="399.48,502.01 419.48,502.01 409.48,484.51" fill="#ff0000"/>
<polygon points="419.82,497.24 439.82,497.24 429.82,479.74" fill="#ff0000"/>
<polygon points="440.16,493.41 460.16,493.41 450.16,475.91" fill="#ff0000"/>
<polygon points="460.50,490.63 480.50,490.63 470.50,473.13" fill="#ff0000"/>
<polygon points="480.84,487.98 500.84,487.98 490.84,470.48" fill="#ff0000"/>
<polygon points="501.18,485.87 521.18,485.87 511.18,468.37" fill="#ff0000"/>
<polygon points="521.52,484.01 541.52,484.01 531.52,466.51" fill="#ff0000"/>
<polygon points="541.86,482.43 561.86,482.43 551.86,464.93" fill="#ff0000"/>
<polygon points="562.20,481.10 582.20,481.10 572.20,463.60" fill="#ff0000"/>
<polygon points="582.54,479.72 602.54,479.72 592.54,462.22" fill="#ff0000"/>
<polygon points="602.88,478.46 622.88,478.46 612.88,460.96" fill="#ff0000"/>
<polygon points="623.22,477.44 643.22,477.44 633.22,459.94" fill="#ff0000"/>
<polygon points="643.56,476.55 663.56,476.55 653.56,459.05" fill="#ff0000"/>
<polygon points="663.90,475.81 683.90,475.81 673.90,458.31" fill="#ff0000"/>
<polygon points="684.24,475.28 704.24,475.28 694.24,457.78" fill="#ff0000"/>
<polygon points="704.58,474.75 724.58,474.75 714.58,457.25" fill="#ff0000"/>
<polygon points="724.92,473.93 744.92,473.93 734.92,456.43" fill="#ff0000"/>
<polygon points="745.26,472.95 765.26,472.95 755.26,455.45" fill="#ff0000"/>
<polygon points="765.60,472.11 785.60,472.11 775.60,454.61" fill="#ff0000"/>
<polygon points="785.94,471.48 805.94,471.48 795.94,453.98" fill="#ff0000"/>
<polygon points="806.28,470.94 826.28,470.94 816.28,453.44" fill="#ff0000"/>
<polygon points="826.62,470.45 846.62,470.45 836.62,452.95" fill="#ff0000"/>
<polygon points="846.96,469.97 866.96,469.97 856.96,452.47" fill="#ff0000"/>
<polygon points="867.30,469.46 887.30,469.46 877.30,451.96" fill="#ff0000"/>
<polygon points="887.64,468.93 907.64,468.93 897.64,451.43" fill="#ff0000"/>
<polygon points="907.98,468.40 927.98,468.40 917.98,450.90" fill="#ff0000"/>
<polygon points="928.32,467.87 948.32,467.87 938.32,450.37" fill="#ff0000"/>
<polygon points="948.66,467.34 968.66,467.34 958.66,449.84" fill="#ff0000"/>
<polygon points="969.00,466.82 989.00,466.82 979.00,449.32" fill="#ff0000"/>
<polyline points="165.40,680.60 167.43,678.10 169.47,675.62 171.50,673.17 173.54,670.75 175.57,668.35 177.60,665.98 179.64,663.64 181.67,661.33 183.71,659.04 185.74,656.79 187.77,654.56 189.81,652.35 191.84,650.16 193.88,648.00 195.91,645.87 197.94,643.76 199.98,641.68 202.01,639.63 204.05,637.61 206.08,635.62 208.11,633.65 210.15,631.70 212.18,629.77 214.22,627.86 216.25,625.98 218.28,624.12 220.32,622.31 222.35,620.53 224.39,618.79 226.42,617.10 228.45,615.45 230.49,613.84 232.52,612.27 234.56,610.73 236.59,609.22 238.62,607.72 240.66,606.25 242.69,604.79 244.73,603.33 246.76,601.88 248.79,600.41 250.83,598.90 252.86,597.38 254.90,595.87 256.93,594.38 258.96,592.94 261.00,591.56 263.03,590.26 265.07,589.07 267.10,587.99 269.13,587.01 271.17,586.09 273.20,585.22 275.24,584.39 277.27,583.61 279.30,582.86 281.34,582.13 283.37,581.43 285.41,580.73 287.44,580.05 289.47,579.38 291.51,578.74 293.54,578.12 295.58,577.51 297.61,576.93 299.64,576.35 301.68,575.78 303.71,575.22 305.75,574.66 307.78,574.10 309.81,573.54 311.85,572.98 313.88,572.43 315.92,571.89 317.95,571.35 319.98,570.82 322.02,570.30 324.05,569.79 326.09,569.29 328.12,568.81 330.15,568.32 332.19,567.83 334.22,567.33 336.26,566.84 338.29,566.37 340.32,565.91 342.36,565.48 344.39,565.09 346.43,564.74 348.46,564.44 350.49,564.18 352.53,563.95 354.56,563.74 356.60,563.55 358.63,563.37 360.66,563.20 362.70,563.02 364.73,562.85 366.77,562.66 368.80,562.46 370.83,562.24 372.87,562.01 374.90,561.77 376.94,561.52 378.97,561.28 381.00,561.04 383.04,560.80 385.07,560.59 387.11,560.39 389.14,560.21 391.17,560.05 393.21,559.91 395.24,559.79 397.28,559.67 399.31,559.55 401.34,559.44 403.38,559.32 405.41,559.19 407.45,559.05 409.48,558.88 411.51,558.70 413.55,558.48 415.58,558.24 417.62,557.98 419.65,557.72 421.68,557.44 423.72,557.16 425.75,556.89 427.79,556.62 429.82,556.37 431.85,556.12 433.89,555.86 435.92,555.60 437.96,555.34 439.99,555.08 442.02,554.83 444.06,554.59 446.09,554.37 448.13,554.17 450.16,553.99 452.19,553.83 454.23,553.67 456.26,553.51 458.30,553.37 460.33,553.22 462.36,553.08 464.40,552.95 466.43,552.82 468.47,552.69 470.50,552.57 472.53,552.45 474.57,552.34 476.60,552.23 478.64,552.13 480.67,552.03 482.70,551.94 484.74,551.85 486.77,551.76 488.81,551.68 490.84,551.61 492.87,551.53 494.91,551.46 496.94,551.39 498.98,551.32 501.01,551.25 503.04,551.19 505.08,551.12 507.11,551.05 509.15,550.99 511.18,550.93 513.21,550.87 515.25,550.80 517.28,550.75 519.32,550.69 521.35,550.63 523.38,550.57 525.42,550.52 527.45,550.47 529.49,550.41 531.52,550.36 533.55,550.31 535.59,550.26 537.62,550.22 539.66,550.17 541.69,550.13 543.72,550.08 545.76,550.04 547.79,550.00 549.83,549.96 551.86,549.92 553.89,549.89 555.93,549.85 557.96,549.82 560.00,549.79 562.03,549.76 564.06,549.73 566.10,549.70 568.13,549.67 570.17,549.65 572.20,549.62 574.23,549.60 576.27,549.58 578.30,549.56 580.34,549.53 582.37,549.51 584.40,549.49 586.44,549.47 588.47,549.45 590.51,549.43 592.54,549.41 594.57,549.39 596.61,549.38 598.64,549.36 600.68,549.34 602.71,549.32 604.74,549.30 606.78,549.29 608.81,549.27 610.85,549.25 612.88,549.24 614.91,549.22 616.95,549.20 618.98,549.19 621.02,549.17 623.05,549.16 625.08,549.14 627.12,549.13 629.15,549.11 631.19,549.10 633.22,549.09 635.25,549.07 637.29,549.06 639.32,549.05 641.36,549.03 643.39,549.02 645.42,549.01 647.46,548.99 649.49,548.98 651.53,548.97 653.56,548.96 655.59,548.94 657.63,548.93 659.66,548.92 661.70,548.91 663.73,548.90 665.76,548.89 667.80,548.88 669.83,548.86 671.87,548.85 673.90,548.84 675.93,548.83 677.97,548.82 680.00,548.81 682.04,548.80 684.07,548.79 686.10,548.78 688.14,548.77 690.17,548.76 692.21,548.75 694.24,548.74 696.27,548.73 698.31,548.72 700.34,548.71 702.38,548.70 704.41,548.69 706.44,548.68 708.48,548.67 710.51,548.66 712.55,548.65 714.58,548.64 716.61,548.63 718.65,548.62 720.68,548.61 722.72,548.60 724.75,548.59 726.78,548.58 728.82,548.57 730.85,548.56 732.89,548.54 734.92,548.53 736.95,548.52 738.99,548.51 741.02,548.50 743.06,548.49 745.09,548.48 747.12,548.47 749.16,548.46 751.19,548.45 753.23,548.44 755.26,548.42 757.29,548.41 759.33,548.40 761.36,548.39 763.40,548.38 765.43,548.36 767.46,548.35 769.50,548.34 771.53,548.33 773.57,548.31 775.60,548.30 777.63,548.29 779.67,548.27 781.70,548.26 783.74,548.25 785.77,548.23 787.80,548.22 789.84,548.21 791.87,548.19 793.91,548.18 795.94,548.17 797.97,548.15 800.01,548.14 802.04,548.13 804.08,548.11 806.11,548.10 808.14,548.09 810.18,548.08 812.21,548.06 814.25,548.05 816.28,548.04 818.31,548.02 820.35,548.01 822.38,548.00 824.42,547.98 826.45,547.97 828.48,547.96 830.52,547.94 832.55,547.93 834.59,547.92 836.62,547.90 838.65,547.89 840.69,547.88 842.72,547.86 844.76,547.85 846.79,547.84 848.82,547.82 850.86,547.81 852.89,547.80 854.93,547.78 856.96,547.77 858.99,547.76 861.03,547.74 863.06,547.73 865.10,547.72 867.13,547.70 869.16,547.69 871.20,547.68 873.23,547.66 875.27,547.65 877.30,547.64 879.33,547.63 881.37,547.61 883.40,547.60 885.44,547.59 887.47,547.57 889.50,547.56 891.54,547.55 893.57,547.53 895.61,547.52 897.64,547.51 899.67,547.49 901.71,547.48 903.74,547.47 905.78,547.45 907.81,547.44 909.84,547.43 911.88,547.41 913.91,547.40 915.95,547.39 917.98,547.37 920.01,547.36 922.05,547.35 924.08,547.33 926.12,547.32 928.15,547.31 930.18,547.29 932.22,547.28 934.25,547.27 936.29,547.25 938.32,547.24 940.35,547.23 942.39,547.22 944.42,547.20 946.46,547.19 948.49,547.18 950.52,547.16 952.56,547.15 954.59,547.14 956.63,547.12 958.66,547.11 960.69,547.10 962.73,547.08 964.76,547.07 966.80,547.06 968.83,547.04 970.86,547.03 972.90,547.02 974.93,547.00 976.97,546.99 979.00,546.98" fill="none" stroke="#800000" stroke-width="4.7" stroke-linejoin="round"/>
<polygon points="165.40,670.10 175.90,680.60 165.40,691.10 154.90,680.60" fill="#800000"/>
<polygon points="185.74,646.29 196.24,656.79 185.74,667.29 175.24,656.79" fill="#800000"/>
<polygon points="206.08,625.12 216.58,635.62 206.08,646.12 195.58,635.62" fill="#800000"/>
<polygon points="226.42,606.60 236.92,617.10 226.42,627.60 215.92,617.10" fill="#800000"/>
<polygon points="246.76,591.38 257.26,601.88 246.76,612.38 236.26,601.88" fill="#800000"/>
<polygon points="267.10,577.49 277.60,587.99 267.10,598.49 256.60,587.99" fill="#800000"/>
<polygon points="287.44,569.55 297.94,580.05 287.44,590.55 276.94,580.05" fill="#800000"/>
<polygon points="307.78,563.60 318.28,574.10 307.78,584.60 297.28,574.10" fill="#800000"/>
<polygon points="328.12,558.31 338.62,568.81 328.12,579.31 317.62,568.81" fill="#800000"/>
<polygon points="348.46,553.94 358.96,564.44 348.46,574.94 337.96,564.44" fill="#800000"/>
<polygon points="368.80,551.96 379.30,562.46 368.80,572.96 358.30,562.46" fill="#800000"/>
<polygon points="389.14,549.71 399.64,560.21 389.14,570.71 378.64,560.21" fill="#800000"/>
<polygon points="409.48,548.38 419.98,558.88 409.48,569.38 398.98,558.88" fill="#800000"/>
<polygon points="429.82,545.87 440.32,556.37 429.82,566.87 419.32,556.37" fill="#800000"/>
<polygon points="450.16,543.49 460.66,553.99 450.16,564.49 439.66,553.99" fill="#800000"/>
<polygon points="470.50,542.07 481.00,552.57 470.50,563.07 460.00,552.57" fill="#800000"/>
<polygon points="490.84,541.11 501.34,551.61 490.84,562.11 480.34,551.61" fill="#800000"/>
<polygon points="511.18,540.43 521.68,550.93 511.18,561.43 500.68,550.93" fill="#800000"/>
<polygon points="531.52,539.86 542.02,550.36 531.52,560.86 521.02,550.36" fill="#800000"/>
<polygon points="551.86,539.42 562.36,549.92 551.86,560.42 541.36,549.92" fill="#800000"/>
<polygon points="572.20,539.12 582.70,549.62 572.20,560.12 561.70,549.62" fill="#800000"/>
<polygon points="592.54,538.91 603.04,549.41 592.54,559.91 582.04,549.41" fill="#800000"/>
<polygon points="612.88,538.74 623.38,549.24 612.88,559.74 602.38,549.24" fill="#800000"/>
<polygon points="633.22,538.59 643.72,549.09 633.22,559.59 622.72,549.09" fill="#800000"/>
<polygon points="653.56,538.46 664.06,548.96 653.56,559.46 643.06,548.96" fill="#800000"/>
<polygon points="673.90,538.34 684.40,548.84 673.90,559.34 663.40,548.84" fill="#800000"/>
<polygon points="694.24,538.24 704.74,548.74 694.24,559.24 683.74,548.74" fill="#800000"/>
<polygon points="714.58,538.14 725.08,548.64 714.58,559.14 704.08,548.64" fill="#800000"/>
<polygon points="734.92,538.03 745.42,548.53 734.92,559.03 724.42,548.53" fill="#800000"/>
<polygon points="755.26,537.92 765.76,548.42 755.26,558.92 744.76,548.42" fill="#800000"/>
<polygon points="775.60,537.80 786.10,548.30 775.60,558.80 765.10,548.30" fill="#800000"/>
<polygon points="795.94,537.67 806.44,548.17 795.94,558.67 785.44,548.17" fill="#800000"/>
<polygon points="816.28,537.54 826.78,548.04 816.28,558.54 805.78,548.04" fill="#800000"/>
<polygon points="836.62,537.40 847.12,547.90 836.62,558.40 826.12,547.90" fill="#800000"/>
<polygon points="856.96,537.27 867.46,547.77 856.96,558.27 846.46,547.77" fill="#800000"/>
<polygon points="877.30,537.14 887.80,547.64 877.30,558.14 866.80,547.64" fill="#800000"/>
<polygon points="897.64,537.01 908.14,547.51 897.64,558.01 887.14,547.51" fill="#800000"/>
<polygon points="917.98,536.87 928.48,547.37 917.98,557.87 907.48,547.37" fill="#800000"/>
<polygon points="938.32,536.74 948.82,547.24 938.32,557.74 927.82,547.24" fill="#800000"/>
<polygon points="958.66,536.61 969.16,547.11 958.66,557.61 948.16,547.11" fill="#800000"/>
<polygon points="979.00,536.48 989.50,546.98 979.00,557.48 968.50,546.98" fill="#800000"/>
<polyline points="165.40,680.60 167.43,679.85 169.47,679.17 171.50,678.58 173.54,678.06 175.57,677.62 177.60,677.27 179.64,676.99 181.67,676.79 183.71,676.67 185.74,676.63 187.77,676.74 189.81,677.04 191.84,677.49 193.88,678.03 195.91,678.62 197.94,679.20 199.98,679.74 202.01,680.19 204.05,680.49 206.08,680.60 208.11,680.60 210.15,680.60 212.18,680.60 214.22,680.60 216.25,680.60 218.28,680.60 220.32,680.60 222.35,680.60 224.39,680.60 226.42,680.60 228.45,680.60 230.49,680.60 232.52,680.60 234.56,680.60 236.59,680.60 238.62,680.60 240.66,680.60 242.69,680.60 244.73,680.60 246.76,680.60 248.79,680.60 250.83,680.60 252.86,680.60 254.90,680.60 256.93,680.60 258.96,680.60 261.00,680.60 263.03,680.60 265.07,680.60 267.10,680.60 269.13,680.60 271.17,680.60 273.20,680.60 275.24,680.60 277.27,680.60 279.30,680.60 281.34,680.60 283.37,680.60 285.41,680.60 287.44,680.60 289.47,680.60 291.51,680.60 293.54,680.60 295.58,680.60 297.61,680.60 299.64,680.60 301.68,680.60 303.71,680.60 305.75,680.60 307.78,680.60 309.81,680.60 311.85,680.60 313.88,680.60 315.92,680.60 317.95,680.60 319.98,680.60 322.02,680.60 324.05,680.60 326.09,680.60 328.12,680.60 330.15,680.60 332.19,680.60 334.22,680.60 336.26,680.60 338.29,680.60 340.32,680.60 342.36,680.60 344.39,680.60 346.43,680.60 348.46,680.60 350.49,680.60 352.53,680.60 354.56,680.60 356.60,680.60 358.63,680.60 360.66,680.60 362.70,680.60 364.73,680.60 366.77,680.60 368.80,680.60 370.83,680.60 372.87,680.60 374.90,680.60 376.94,680.60 378.97,680.60 381.00,680.60 383.04,680.60 385.07,680.60 387.11,680.60 389.14,680.60 391.17,680.60 393.21,680.60 395.24,680.60 397.28,680.60 399.31,680.60 401.34,680.60 403.38,680.60 405.41,680.60 407.45,680.60 409.48,680.60 411.51,680.60 413.55,680.60 415.58,680.60 417.62,680.60 419.65,680.60 421.68,680.60 423.72,680.60 425.75,680.60 427.79,680.60 429.82,680.60 431.85,680.60 433.89,680.60 435.92,680.60 437.96,680.60 439.99,680.60 442.02,680.60 444.06,680.60 446.09,680.60 448.13,680.60 450.16,680.60 452.19,680.60 454.23,680.60 456.26,680.60 458.30,680.60 460.33,680.60 462.36,680.60 464.40,680.60 466.43,680.60 468.47,680.60 470.50,680.60 472.53,680.60 474.57,680.60 476.60,680.60 478.64,680.60 480.67,680.60 482.70,680.60 484.74,680.60 486.77,680.60 488.81,680.60 490.84,680.60 492.87,680.60 494.91,680.60 496.94,680.60 498.98,680.60 501.01,680.60 503.04,680.60 505.08,680.60 507.11,680.60 509.15,680.60 511.18,680.60 513.21,680.60 515.25,680.60 517.28,680.60 519.32,680.60 521.35,680.60 523.38,680.60 525.42,680.60 527.45,680.60 529.49,680.60 531.52,680.60 533.55,680.60 535.59,680.60 537.62,680.60 539.66,680.60 541.69,680.60 543.72,680.60 545.76,680.60 547.79,680.60 549.83,680.60 551.86,680.60 553.89,680.60 555.93,680.60 557.96,680.60 560.00,680.60 562.03,680.60 564.06,680.60 566.10,680.60 568.13,680.60 570.17,680.60 572.20,680.60 574.23,680.60 576.27,680.60 578.30,680.60 580.34,680.60 582.37,680.60 584.40,680.60 586.44,680.60 588.47,680.60 590.51,680.60 592.54,680.60 594.57,680.60 596.61,680.60 598.64,680.60 600.68,680.60 602.71,680.60 604.74,680.60 606.78,680.60 608.81,680.60 610.85,680.60 612.88,680.60 614.91,680.60 616.95,680.60 618.98,680.60 621.02,680.60 623.05,680.60 625.08,680.60 627.12,680.60 629.15,680.60 631.19,680.60 633.22,680.60 635.25,680.60 637.29,680.60 639.32,680.60 641.36,680.60 643.39,680.60 645.42,680.60 647.46,680.60 649.49,680.60 651.53,680.60 653.56,680.60 655.59,680.60 657.63,680.60 659.66,680.60 661.70,680.60 663.73,680.60 665.76,680.60 667.80,680.60 669.83,680.60 671.87,680.60 673.90,680.60 675.93,680.60 677.97,680.60 680.00,680.60 682.04,680.60 684.07,680.60 686.10,680.60 688.14,680.60 690.17,680.60 692.21,680.60 694.24,680.60 696.27,680.60 698.31,680.60 700.34,680.60 702.38,680.60 704.41,680.60 706.44,680.60 708.48,680.60 710.51,680.60 712.55,680.60 714.58,680.60 716.61,680.60 718.65,680.60 720.68,680.60 722.72,680.60 724.75,680.60 726.78,680.60 728.82,680.60 730.85,680.60 732.89,680.60 734.92,680.60 736.95,680.60 738.99,680.60 741.02,680.60 743.06,680.60 745.09,680.60 747.12,680.60 749.16,680.60 751.19,680.60 753.23,680.60 755.26,680.60 757.29,680.60 759.33,680.60 761.36,680.60 763.40,680.60 765.43,680.60 767.46,680.60 769.50,680.60 771.53,680.60 773.57,680.60 775.60,680.60 777.63,680.60 779.67,680.60 781.70,680.60 783.74,680.60 785.77,680.60 787.80,680.60 789.84,680.60 791.87,680.60 793.91,680.60 795.94,680.60 797.97,680.60 800.01,680.60 802.04,680.60 804.08,680.60 806.11,680.60 808.14,680.60 810.18,680.60 812.21,680.60 814.25,680.60 816.28,680.60 818.31,680.60 820.35,680.60 822.38,680.60 824.42,680.60 826.45,680.60 828.48,680.60 830.52,680.60 832.55,680.60 834.59,680.60 836.62,680.60 838.65,680.60 840.69,680.60 842.72,680.60 844.76,680.60 846.79,680.60 848.82,680.60 850.86,680.60 852.89,680.60 854.93,680.60 856.96,680.60 858.99,680.60 861.03,680.60 863.06,680.60 865.10,680.60 867.13,680.60 869.16,680.60 871.20,680.60 873.23,680.60 875.27,680.60 877.30,680.60 879.33,680.60 881.37,680.60 883.40,680.60 885.44,680.60 887.47,680.60 889.50,680.60 891.54,680.60 893.57,680.60 895.61,680.60 897.64,680.60 899.67,680.60 901.71,680.60 903.74,680.60 905.78,680.60 907.81,680.60 909.84,680.60 911.88,680.60 913.91,680.60 915.95,680.60 917.98,680.60 920.01,680.60 922.05,680.60 924.08,680.60 926.12,680.60 928.15,680.60 930.18,680.60 932.22,680.60 934.25,680.60 936.29,680.60 938.32,680.60 940.35,680.60 942.39,680.60 944.42,680.60 946.46,680.60 948.49,680.60 950.52,680.60 952.56,680.60 954.59,680.60 956.63,680.60 958.66,680.60 960.69,680.60 962.73,680.60 964.76,680.60 966.80,680.60 968.83,680.60 970.86,680.60 972.90,680.60 974.93,680.60 976.97,680.60 979.00,680.60" fill="none" stroke="#ff00ff" stroke-width="4.7" stroke-linejoin="round"/>
<polygon points="170.23,670.60 170.23,690.60 155.73,680.60" fill="#ff00ff"/>
<polygon points="190.57,666.63 190.57,686.63 176.07,676.63" fill="#ff00ff"/>
<polygon points="210.91,670.60 210.91,690.60 196.41,680.60" fill="#ff00ff"/>
<polygon points="231.25,670.60 231.25,690.60 216.75,680.60" fill="#ff00ff"/>
<polygon points="251.59,670.60 251.59,690.60 237.09,680.60" fill="#ff00ff"/>
<polygon points="271.93,670.60 271.93,690.60 257.43,680.60" fill="#ff00ff"/>
<polygon points="292.27,670.60 292.27,690.60 277.77,680.60" fill="#ff00ff"/>
<polygon points="312.61,670.60 312.61,690.60 298.11,680.60" fill="#ff00ff"/>
<polygon points="332.95,670.60 332.95,690.60 318.45,680.60" fill="#ff00ff"/>
<polygon points="353.29,670.60 353.29,690.60 338.79,680.60" fill="#ff00ff"/>
<polygon points="373.63,670.60 373.63,690.60 359.13,680.60" fill="#ff00ff"/>
<polygon points="393.97,670.60 393.97,690.60 379.47,680.60" fill="#ff00ff"/>
<polygon points="414.31,670.60 414.31,690.60 399.81,680.60" fill="#ff00ff"/>
<polygon points="434.65,670.60 434.65,690.60 420.15,680.60" fill="#ff00ff"/>
<polygon points="454.99,670.60 454.99,690.60 440.49,680.60" fill="#ff00ff"/>
<polygon points="475.33,670.60 475.33,690.60 460.83,680.60" fill="#ff00ff"/>
<polygon points="495.67,670.60 495.67,690.60 481.17,680.60" fill="#ff00ff"/>
<polygon points="516.01,670.60 516.01,690.60 501.51,680.60" fill="#ff00ff"/>
<polygon points="536.35,670.60 536.35,690.60 521.85,680.60" fill="#ff00ff"/>
<polygon points="556.69,670.60 556.69,690.60 542.19,680.60" fill="#ff00ff"/>
<polygon points="577.03,670.60 577.03,690.60 562.53,680.60" fill="#ff00ff"/>
<polygon points="597.37,670.60 597.37,690.60 582.87,680.60" fill="#ff00ff"/>
<polygon points="617.71,670.60 617.71,690.60 603.21,680.60" fill="#ff00ff"/>
<polygon points="638.05,670.60 638.05,690.60 623.55,680.60" fill="#ff00ff"/>
<polygon points="658.39,670.60 658.39,690.60 643.89,680.60" fill="#ff00ff"/>
<polygon points="678.73,670.60 678.73,690.60 664.23,680.60" fill="#ff00ff"/>
<polygon points="699.07,670.60 699.07,690.60 684.57,680.60" fill="#ff00ff"/>
<polygon points="719.41,670.60 719.41,690.60 704.91,680.60" fill="#ff00ff"/>
<polygon points="739.75,670.60 739.75,690.60 725.25,680.60" fill="#ff00ff"/>
<polygon points="760.09,670.60 760.09,690.60 745.59,680.60" fill="#ff00ff"/>
<polygon points="780.43,670.60 780.43,690.60 765.93,680.60" fill="#ff00ff"/>
<polygon points="800.77,670.60 800.77,690.60 786.27,680.60" fill="#ff00ff"/>
<polygon points="821.11,670.60 821.11,690.60 806.61,680.60" fill="#ff00ff"/>
<polygon points="841.45,670.60 841.45,690.60 826.95,680.60" fill="#ff00ff"/>
<polygon points="861.79,670.60 861.79,690.60 847.29,680.60" fill="#ff00ff"/>
<polygon points="882.13,670.60 882.13,690.60 867.63,680.60" fill="#ff00ff"/>
<polygon points="902.47,670.60 902.47,690.60 887.97,680.60" fill="#ff00ff"/>
<polygon points="922.81,670.60 922.81,690.60 908.31,680.60" fill="#ff00ff"/>
<polygon points="943.15,670.60 943.15,690.60 928.65,680.60" fill="#ff00ff"/>
<polygon points="963.49,670.60 963.49,690.60 948.99,680.60" fill="#ff00ff"/>
<polygon points="983.83,670.60 983.83,690.60 969.33,680.60" fill="#ff00ff"/>
<polyline points="165.40,680.60 167.43,677.10 169.47,673.61 171.50,670.11 173.54,666.61 175.57,663.11 177.60,659.61 179.64,656.10 181.67,652.60 183.71,649.10 185.74,645.59 187.77,642.08 189.81,638.58 191.84,635.07 193.88,631.56 195.91,628.05 197.94,624.54 199.98,621.02 202.01,617.51 204.05,614.00 206.08,610.48 208.11,606.95 210.15,603.38 212.18,599.79 214.22,596.19 216.25,592.57 218.28,588.94 220.32,585.31 222.35,581.69 224.39,578.08 226.42,574.48 228.45,570.91 230.49,567.37 232.52,563.86 234.56,560.39 236.59,556.97 238.62,553.60 240.66,550.30 242.69,547.05 244.73,543.86 246.76,540.70 248.79,537.58 250.83,534.50 252.86,531.46 254.90,528.45 256.93,525.48 258.96,522.56 261.00,519.67 263.03,516.82 265.07,514.02 267.10,511.26 269.13,508.53 271.17,505.83 273.20,503.15 275.24,500.50 277.27,497.87 279.30,495.27 281.34,492.69 283.37,490.13 285.41,487.60 287.44,485.08 289.47,482.58 291.51,480.10 293.54,477.63 295.58,475.19 297.61,472.75 299.64,470.34 301.68,467.93 303.71,465.54 305.75,463.16 307.78,460.79 309.81,458.43 311.85,456.08 313.88,453.74 315.92,451.40 317.95,449.08 319.98,446.75 322.02,444.42 324.05,442.09 326.09,439.77 328.12,437.46 330.15,435.17 332.19,432.90 334.22,430.65 336.26,428.44 338.29,426.25 340.32,424.11 342.36,422.01 344.39,419.95 346.43,417.95 348.46,416.00 350.49,414.09 352.53,412.20 354.56,410.33 356.60,408.48 358.63,406.65 360.66,404.84 362.70,403.05 364.73,401.28 366.77,399.53 368.80,397.81 370.83,396.11 372.87,394.43 374.90,392.77 376.94,391.14 378.97,389.54 381.00,387.96 383.04,386.40 385.07,384.87 387.11,383.37 389.14,381.89 391.17,380.45 393.21,379.03 395.24,377.63 397.28,376.25 399.31,374.87 401.34,373.49 403.38,372.12 405.41,370.77 407.45,369.42 409.48,368.10 411.51,366.80 413.55,365.54 415.58,364.30 417.62,363.10 419.65,361.94 421.68,360.83 423.72,359.77 425.75,358.76 427.79,357.82 429.82,356.93 431.85,356.11 433.89,355.36 435.92,354.64 437.96,353.96 439.99,353.31 442.02,352.68 444.06,352.08 446.09,351.51 448.13,350.95 450.16,350.42 452.19,349.89 454.23,349.39 456.26,348.89 458.30,348.40 460.33,347.92 462.36,347.44 464.40,346.97 466.43,346.49 468.47,346.01 470.50,345.52 472.53,345.02 474.57,344.53 476.60,344.03 478.64,343.54 480.67,343.06 482.70,342.58 484.74,342.11 486.77,341.66 488.81,341.22 490.84,340.80 492.87,340.41 494.91,340.04 496.94,339.69 498.98,339.38 501.01,339.08 503.04,338.79 505.08,338.52 507.11,338.26 509.15,338.01 511.18,337.76 513.21,337.53 515.25,337.31 517.28,337.09 519.32,336.87 521.35,336.66 523.38,336.46 525.42,336.25 527.45,336.05 529.49,335.85 531.52,335.65 533.55,335.45 535.59,335.26 537.62,335.07 539.66,334.89 541.69,334.70 543.72,334.53 545.76,334.36 547.79,334.19 549.83,334.03 551.86,333.87 553.89,333.72 555.93,333.58 557.96,333.44 560.00,333.31 562.03,333.19 564.06,333.06 566.10,332.93 568.13,332.80 570.17,332.67 572.20,332.54 574.23,332.41 576.27,332.28 578.30,332.15 580.34,332.02 582.37,331.90 584.40,331.78 586.44,331.66 588.47,331.55 590.51,331.44 592.54,331.34 594.57,331.24 596.61,331.15 598.64,331.06 600.68,330.99 602.71,330.92 604.74,330.85 606.78,330.80 608.81,330.75 610.85,330.72 612.88,330.69 614.91,330.67 616.95,330.67 618.98,330.67 621.02,330.68 623.05,330.69 625.08,330.70 627.12,330.72 629.15,330.75 631.19,330.78 633.22,330.81 635.25,330.85 637.29,330.88 639.32,330.93 641.36,330.97 643.39,331.02 645.42,331.07 647.46,331.12 649.49,331.18 651.53,331.23 653.56,331.29 655.59,331.35 657.63,331.41 659.66,331.47 661.70,331.54 663.73,331.60 665.76,331.66 667.80,331.73 669.83,331.79 671.87,331.86 673.90,331.92 675.93,331.99 677.97,332.06 680.00,332.13 682.04,332.21 684.07,332.30 686.10,332.39 688.14,332.49 690.17,332.59 692.21,332.69 694.24,332.80 696.27,332.92 698.31,333.04 700.34,333.16 702.38,333.28 704.41,333.41 706.44,333.54 708.48,333.67 710.51,333.81 712.55,333.94 714.58,334.08 716.61,334.22 718.65,334.35 720.68,334.49 722.72,334.63 724.75,334.77 726.78,334.91 728.82,335.05 730.85,335.18 732.89,335.32 734.92,335.45 736.95,335.58 738.99,335.71 741.02,335.84 743.06,335.96 745.09,336.08 747.12,336.20 749.16,336.31 751.19,336.42 753.23,336.52 755.26,336.62 757.29,336.72 759.33,336.81 761.36,336.90 763.40,336.99 765.43,337.08 767.46,337.17 769.50,337.26 771.53,337.34 773.57,337.43 775.60,337.51 777.63,337.59 779.67,337.67 781.70,337.75 783.74,337.83 785.77,337.91 787.80,337.98 789.84,338.06 791.87,338.13 793.91,338.21 795.94,338.28 797.97,338.36 800.01,338.43 802.04,338.51 804.08,338.58 806.11,338.65 808.14,338.73 810.18,338.80 812.21,338.87 814.25,338.95 816.28,339.02 818.31,339.10 820.35,339.17 822.38,339.25 824.42,339.32 826.45,339.40 828.48,339.48 830.52,339.56 832.55,339.64 834.59,339.72 836.62,339.80 838.65,339.88 840.69,339.96 842.72,340.05 844.76,340.13 846.79,340.22 848.82,340.31 850.86,340.40 852.89,340.49 854.93,340.59 856.96,340.69 858.99,340.78 861.03,340.88 863.06,340.98 865.10,341.09 867.13,341.19 869.16,341.30 871.20,341.41 873.23,341.51 875.27,341.62 877.30,341.74 879.33,341.85 881.37,341.96 883.40,342.07 885.44,342.19 887.47,342.30 889.50,342.42 891.54,342.53 893.57,342.65 895.61,342.77 897.64,342.88 899.67,343.00 901.71,343.12 903.74,343.24 905.78,343.35 907.81,343.47 909.84,343.59 911.88,343.71 913.91,343.82 915.95,343.94 917.98,344.06 920.01,344.18 922.05,344.30 924.08,344.42 926.12,344.54 928.15,344.67 930.18,344.79 932.22,344.91 934.25,345.03 936.29,345.16 938.32,345.28 940.35,345.41 942.39,345.53 944.42,345.66 946.46,345.78 948.49,345.91 950.52,346.04 952.56,346.16 954.59,346.29 956.63,346.42 958.66,346.55 960.69,346.68 962.73,346.81 964.76,346.94 966.80,347.07 968.83,347.20 970.86,347.33 972.90,347.47 974.93,347.60 976.97,347.73 979.00,347.87" fill="none" stroke="#000000" stroke-width="4.7" stroke-linejoin="round"/>
<polygon points="165.40,671.00 167.94,677.11 174.53,677.63 169.51,681.93 171.04,688.37 165.40,684.92 159.76,688.37 161.29,681.93 156.27,677.63 162.86,677.11" fill="#000"/>
<polygon points="191.84,625.47 194.38,631.57 200.97,632.10 195.95,636.40 197.48,642.84 191.84,639.39 186.20,642.84 187.73,636.40 182.71,632.10 189.30,631.57" fill="#000"/>
<polygon points="218.28,579.34 220.82,585.44 227.41,585.97 222.39,590.27 223.93,596.71 218.28,593.26 212.64,596.71 214.18,590.27 209.15,585.97 215.74,585.44" fill="#000"/>
<polygon points="242.49,537.77 245.03,543.88 251.62,544.41 246.60,548.71 248.13,555.14 242.49,551.69 236.85,555.14 238.38,548.71 233.36,544.41 239.95,543.88" fill="#000"/>
<polygon points="279.30,485.67 281.84,491.78 288.43,492.31 283.41,496.61 284.95,503.04 279.30,499.59 273.66,503.04 275.20,496.61 270.17,492.31 276.76,491.78" fill="#000"/>
<polygon points="318.56,438.78 321.10,444.88 327.69,445.41 322.67,449.71 324.20,456.14 318.56,452.70 312.92,456.14 314.45,449.71 309.43,445.41 316.02,444.88" fill="#000"/>
<polygon points="348.46,406.40 351.00,412.51 357.59,413.03 352.57,417.33 354.10,423.77 348.46,420.32 342.82,423.77 344.35,417.33 339.33,413.03 345.92,412.51" fill="#000"/>
<polygon points="395.24,368.03 397.78,374.14 404.37,374.67 399.35,378.97 400.88,385.40 395.24,381.95 389.60,385.40 391.13,378.97 386.11,374.67 392.70,374.14" fill="#000"/>
<polygon points="432.67,346.20 435.21,352.31 441.80,352.84 436.78,357.14 438.31,363.57 432.67,360.12 427.02,363.57 428.56,357.14 423.54,352.84 430.13,352.31" fill="#000"/>
<polygon points="470.09,336.02 472.63,342.12 479.22,342.65 474.20,346.95 475.74,353.38 470.09,349.94 464.45,353.38 465.98,346.95 460.96,342.65 467.55,342.12" fill="#000"/>
<polygon points="497.96,329.93 500.50,336.04 507.09,336.56 502.07,340.87 503.60,347.30 497.96,343.85 492.32,347.30 493.85,340.87 488.83,336.56 495.42,336.04" fill="#000"/>
<polygon points="525.01,326.69 527.55,332.80 534.14,333.33 529.12,337.63 530.65,344.06 525.01,340.61 519.37,344.06 520.90,337.63 515.88,333.33 522.47,332.80" fill="#000"/>
<polygon points="559.18,323.76 561.72,329.87 568.31,330.40 563.29,334.70 564.83,341.13 559.18,337.68 553.54,341.13 555.07,334.70 550.05,330.40 556.64,329.87" fill="#000"/>
<polygon points="563.66,323.48 566.20,329.59 572.79,330.12 567.77,334.42 569.30,340.85 563.66,337.40 558.01,340.85 559.55,334.42 554.53,330.12 561.12,329.59" fill="#000"/>
<polygon points="617.56,321.07 620.10,327.17 626.69,327.70 621.67,332.00 623.20,338.43 617.56,334.99 611.92,338.43 613.45,332.00 608.43,327.70 615.02,327.17" fill="#000"/>
<polygon points="675.93,322.39 678.47,328.49 685.06,329.02 680.04,333.32 681.58,339.76 675.93,336.31 670.29,339.76 671.83,333.32 666.80,329.02 673.39,328.49" fill="#000"/>
<polygon points="754.45,326.98 756.99,333.09 763.58,333.61 758.55,337.92 760.09,344.35 754.45,340.90 748.80,344.35 750.34,337.92 745.32,333.61 751.91,333.09" fill="#000"/>
<polygon points="854.93,330.99 857.47,337.09 864.06,337.62 859.03,341.92 860.57,348.36 854.93,344.91 849.28,348.36 850.82,341.92 845.80,337.62 852.39,337.09" fill="#000"/>
<polygon points="903.74,333.63 906.28,339.74 912.87,340.27 907.85,344.57 909.38,351.00 903.74,347.56 898.10,351.00 899.63,344.57 894.61,340.27 901.20,339.74" fill="#000"/>
<polyline points="165.40,680.60 167.43,676.70 169.47,672.79 171.50,668.89 173.54,664.99 175.57,661.09 177.60,657.18 179.64,653.28 181.67,649.38 183.71,645.47 185.74,641.57 187.77,637.65 189.81,633.70 191.84,629.73 193.88,625.76 195.91,621.80 197.94,617.85 199.98,613.94 202.01,610.08 204.05,606.28 206.08,602.54 208.11,598.88 210.15,595.26 212.18,591.69 214.22,588.16 216.25,584.67 218.28,581.20 220.32,577.75 222.35,574.32 224.39,570.90 226.42,567.48 228.45,564.07 230.49,560.67 232.52,557.28 234.56,553.90 236.59,550.55 238.62,547.21 240.66,543.90 242.69,540.62 244.73,537.36 246.76,534.14 248.79,530.95 250.83,527.77 252.86,524.62 254.90,521.49 256.93,518.38 258.96,515.30 261.00,512.25 263.03,509.24 265.07,506.26 267.10,503.32 269.13,500.42 271.17,497.56 273.20,494.73 275.24,491.93 277.27,489.16 279.30,486.41 281.34,483.68 283.37,480.96 285.41,478.25 287.44,475.54 289.47,472.82 291.51,470.10 293.54,467.39 295.58,464.68 297.61,461.99 299.64,459.33 301.68,456.70 303.71,454.11 305.75,451.57 307.78,449.08 309.81,446.63 311.85,444.20 313.88,441.81 315.92,439.44 317.95,437.11 319.98,434.82 322.02,432.56 324.05,430.35 326.09,428.18 328.12,426.05 330.15,423.97 332.19,421.91 334.22,419.89 336.26,417.90 338.29,415.95 340.32,414.03 342.36,412.15 344.39,410.31 346.43,408.50 348.46,406.74 350.49,405.01 352.53,403.31 354.56,401.63 356.60,399.99 358.63,398.38 360.66,396.80 362.70,395.26 364.73,393.75 366.77,392.29 368.80,390.86 370.83,389.47 372.87,388.09 374.90,386.73 376.94,385.40 378.97,384.10 381.00,382.84 383.04,381.63 385.07,380.46 387.11,379.35 389.14,378.29 391.17,377.29 393.21,376.32 395.24,375.38 397.28,374.48 399.31,373.61 401.34,372.77 403.38,371.96 405.41,371.17 407.45,370.42 409.48,369.69 411.51,369.00 413.55,368.32 415.58,367.67 417.62,367.04 419.65,366.43 421.68,365.84 423.72,365.26 425.75,364.70 427.79,364.15 429.82,363.61 431.85,363.08 433.89,362.56 435.92,362.06 437.96,361.56 439.99,361.08 442.02,360.61 444.06,360.15 446.09,359.70 448.13,359.27 450.16,358.85 452.19,358.43 454.23,358.01 456.26,357.60 458.30,357.19 460.33,356.80 462.36,356.42 464.40,356.06 466.43,355.72 468.47,355.42 470.50,355.14 472.53,354.89 474.57,354.66 476.60,354.45 478.64,354.25 480.67,354.06 482.70,353.87 484.74,353.69 486.77,353.52 488.81,353.34 490.84,353.16 492.87,352.97 494.91,352.78 496.94,352.60 498.98,352.41 501.01,352.23 503.04,352.05 505.08,351.89 507.11,351.73 509.15,351.58 511.18,351.44 513.21,351.31 515.25,351.19 517.28,351.07 519.32,350.96 521.35,350.86 523.38,350.76 525.42,350.66 527.45,350.56 529.49,350.47 531.52,350.38 533.55,350.29 535.59,350.20 537.62,350.11 539.66,350.02 541.69,349.94 543.72,349.85 545.76,349.78 547.79,349.71 549.83,349.64 551.86,349.59 553.89,349.53 555.93,349.48 557.96,349.43 560.00,349.38 562.03,349.33 564.06,349.29 566.10,349.25 568.13,349.22 570.17,349.20 572.20,349.19 574.23,349.18 576.27,349.18 578.30,349.17 580.34,349.17 582.37,349.16 584.40,349.15 586.44,349.15 588.47,349.14 590.51,349.14 592.54,349.14 594.57,349.13 596.61,349.13 598.64,349.12 600.68,349.12 602.71,349.11 604.74,349.11 606.78,349.11 608.81,349.10 610.85,349.10 612.88,349.10 614.91,349.09 616.95,349.09 618.98,349.09 621.02,349.09 623.05,349.08 625.08,349.08 627.12,349.08 629.15,349.08 631.19,349.08 633.22,349.07 635.25,349.07 637.29,349.07 639.32,349.07 641.36,349.07 643.39,349.07 645.42,349.06 647.46,349.06 649.49,349.06 651.53,349.06 653.56,349.06 655.59,349.06 657.63,349.06 659.66,349.06 661.70,349.06 663.73,349.06 665.76,349.06 667.80,349.06 669.83,349.06 671.87,349.06 673.90,349.06 675.93,349.06 677.97,349.06 680.00,349.06 682.04,349.06 684.07,349.06 686.10,349.06 688.14,349.06 690.17,349.07 692.21,349.07 694.24,349.07 696.27,349.08 698.31,349.08 700.34,349.08 702.38,349.09 704.41,349.09 706.44,349.10 708.48,349.10 710.51,349.11 712.55,349.11 714.58,349.12 716.61,349.12 718.65,349.13 720.68,349.13 722.72,349.14 724.75,349.14 726.78,349.15 728.82,349.16 730.85,349.16 732.89,349.17 734.92,349.18 736.95,349.18 738.99,349.19 741.02,349.20 743.06,349.20 745.09,349.21 747.12,349.22 749.16,349.23 751.19,349.23 753.23,349.24 755.26,349.25 757.29,349.26 759.33,349.26 761.36,349.27 763.40,349.28 765.43,349.28 767.46,349.29 769.50,349.30 771.53,349.31 773.57,349.31 775.60,349.32 777.63,349.33 779.67,349.34 781.70,349.34 783.74,349.35 785.77,349.36 787.80,349.37 789.84,349.37 791.87,349.38 793.91,349.39 795.94,349.40 797.97,349.41 800.01,349.42 802.04,349.43 804.08,349.44 806.11,349.45 808.14,349.46 810.18,349.47 812.21,349.48 814.25,349.49 816.28,349.50 818.31,349.51 820.35,349.52 822.38,349.53 824.42,349.54 826.45,349.55 828.48,349.56 830.52,349.57 832.55,349.58 834.59,349.59 836.62,349.61 838.65,349.62 840.69,349.63 842.72,349.64 844.76,349.65 846.79,349.66 848.82,349.68 850.86,349.69 852.89,349.70 854.93,349.71 856.96,349.72 858.99,349.74 861.03,349.75 863.06,349.76 865.10,349.77 867.13,349.79 869.16,349.80 871.20,349.81 873.23,349.82 875.27,349.84 877.30,349.85 879.33,349.86 881.37,349.88 883.40,349.89 885.44,349.90 887.47,349.92 889.50,349.93 891.54,349.94 893.57,349.96 895.61,349.97 897.64,349.98 899.67,350.00 901.71,350.01 903.74,350.03 905.78,350.04 907.81,350.06 909.84,350.07 911.88,350.09 913.91,350.10 915.95,350.12 917.98,350.13 920.01,350.15 922.05,350.16 924.08,350.18 926.12,350.19 928.15,350.21 930.18,350.23 932.22,350.24 934.25,350.26 936.29,350.28 938.32,350.29 940.35,350.31 942.39,350.33 944.42,350.34 946.46,350.36 948.49,350.38 950.52,350.39 952.56,350.41 954.59,350.43 956.63,350.45 958.66,350.46 960.69,350.48 962.73,350.50 964.76,350.52 966.80,350.53 968.83,350.55 970.86,350.57 972.90,350.59 974.93,350.61 976.97,350.63 979.00,350.64" fill="none" stroke="#0000ff" stroke-width="4.7" stroke-linejoin="round"/>
<circle cx="165.40" cy="680.60" r="8.5" fill="#0000ff"/>
<circle cx="185.74" cy="641.57" r="8.5" fill="#0000ff"/>
<circle cx="206.08" cy="602.54" r="8.5" fill="#0000ff"/>
<circle cx="226.42" cy="567.48" r="8.5" fill="#0000ff"/>
<circle cx="246.76" cy="534.14" r="8.5" fill="#0000ff"/>
<circle cx="267.10" cy="503.32" r="8.5" fill="#0000ff"/>
<circle cx="287.44" cy="475.54" r="8.5" fill="#0000ff"/>
<circle cx="307.78" cy="449.08" r="8.5" fill="#0000ff"/>
<circle cx="328.12" cy="426.05" r="8.5" fill="#0000ff"/>
<circle cx="348.46" cy="406.74" r="8.5" fill="#0000ff"/>
<circle cx="368.80" cy="390.86" r="8.5" fill="#0000ff"/>
<circle cx="389.14" cy="378.29" r="8.5" fill="#0000ff"/>
<circle cx="409.48" cy="369.69" r="8.5" fill="#0000ff"/>
<circle cx="429.82" cy="363.61" r="8.5" fill="#0000ff"/>
<circle cx="450.16" cy="358.85" r="8.5" fill="#0000ff"/>
<circle cx="470.50" cy="355.14" r="8.5" fill="#0000ff"/>
<circle cx="490.84" cy="353.16" r="8.5" fill="#0000ff"/>
<circle cx="511.18" cy="351.44" r="8.5" fill="#0000ff"/>
<circle cx="531.52" cy="350.38" r="8.5" fill="#0000ff"/>
<circle cx="551.86" cy="349.59" r="8.5" fill="#0000ff"/>
<circle cx="572.20" cy="349.19" r="8.5" fill="#0000ff"/>
<circle cx="592.54" cy="349.14" r="8.5" fill="#0000ff"/>
<circle cx="612.88" cy="349.10" r="8.5" fill="#0000ff"/>
<circle cx="633.22" cy="349.07" r="8.5" fill="#0000ff"/>
<circle cx="653.56" cy="349.06" r="8.5" fill="#0000ff"/>
<circle cx="673.90" cy="349.06" r="8.5" fill="#0000ff"/>
<circle cx="694.24" cy="349.07" r="8.5" fill="#0000ff"/>
<circle cx="714.58" cy="349.12" r="8.5" fill="#0000ff"/>
<circle cx="734.92" cy="349.18" r="8.5" fill="#0000ff"/>
<circle cx="755.26" cy="349.25" r="8.5" fill="#0000ff"/>
<circle cx="775.60" cy="349.32" r="8.5" fill="#0000ff"/>
<circle cx="795.94" cy="349.40" r="8.5" fill="#0000ff"/>
<circle cx="816.28" cy="349.50" r="8.5" fill="#0000ff"/>
<circle cx="836.62" cy="349.61" r="8.5" fill="#0000ff"/>
<circle cx="856.96" cy="349.72" r="8.5" fill="#0000ff"/>
<circle cx="877.30" cy="349.85" r="8.5" fill="#0000ff"/>
<circle cx="897.64" cy="349.98" r="8.5" fill="#0000ff"/>
<circle cx="917.98" cy="350.13" r="8.5" fill="#0000ff"/>
<circle cx="938.32" cy="350.29" r="8.5" fill="#0000ff"/>
<circle cx="958.66" cy="350.46" r="8.5" fill="#0000ff"/>
<circle cx="979.00" cy="350.64" r="8.5" fill="#0000ff"/>
<polyline points="165.40,680.60 167.43,678.56 169.47,676.52 171.50,674.51 173.54,672.50 175.57,670.51 177.60,668.53 179.64,666.57 181.67,664.62 183.71,662.68 185.74,660.75 187.77,658.84 189.81,656.92 191.84,655.01 193.88,653.12 195.91,651.24 197.94,649.38 199.98,647.54 202.01,645.73 204.05,643.96 206.08,642.23 208.11,640.54 210.15,638.88 212.18,637.25 214.22,635.64 216.25,634.06 218.28,632.49 220.32,630.94 222.35,629.40 224.39,627.88 226.42,626.36 228.45,624.84 230.49,623.34 232.52,621.85 234.56,620.38 236.59,618.91 238.62,617.46 240.66,616.03 242.69,614.61 244.73,613.20 246.76,611.80 248.79,610.42 250.83,609.06 252.86,607.70 254.90,606.35 256.93,605.02 258.96,603.71 261.00,602.40 263.03,601.11 265.07,599.83 267.10,598.57 269.13,597.33 271.17,596.09 273.20,594.87 275.24,593.65 277.27,592.45 279.30,591.27 281.34,590.10 283.37,588.94 285.41,587.80 287.44,586.67 289.47,585.55 291.51,584.45 293.54,583.36 295.58,582.28 297.61,581.21 299.64,580.16 301.68,579.12 303.71,578.09 305.75,577.08 307.78,576.08 309.81,575.11 311.85,574.15 313.88,573.21 315.92,572.29 317.95,571.38 319.98,570.47 322.02,569.56 324.05,568.65 326.09,567.74 328.12,566.82 330.15,565.89 332.19,564.93 334.22,563.97 336.26,563.01 338.29,562.05 340.32,561.11 342.36,560.18 344.39,559.27 346.43,558.40 348.46,557.56 350.49,556.76 352.53,555.98 354.56,555.23 356.60,554.49 358.63,553.77 360.66,553.06 362.70,552.36 364.73,551.67 366.77,550.98 368.80,550.28 370.83,549.61 372.87,548.96 374.90,548.32 376.94,547.70 378.97,547.08 381.00,546.44 383.04,545.80 385.07,545.12 387.11,544.42 389.14,543.67 391.17,542.87 393.21,542.03 395.24,541.14 397.28,540.22 399.31,539.27 401.34,538.31 403.38,537.33 405.41,536.35 407.45,535.37 409.48,534.41 411.51,533.44 413.55,532.45 415.58,531.46 417.62,530.45 419.65,529.44 421.68,528.43 423.72,527.42 425.75,526.43 427.79,525.45 429.82,524.49 431.85,523.54 433.89,522.60 435.92,521.67 437.96,520.74 439.99,519.82 442.02,518.91 444.06,518.01 446.09,517.12 448.13,516.23 450.16,515.36 452.19,514.49 454.23,513.63 456.26,512.78 458.30,511.94 460.33,511.11 462.36,510.28 464.40,509.46 466.43,508.64 468.47,507.83 470.50,507.02 472.53,506.22 474.57,505.42 476.60,504.63 478.64,503.84 480.67,503.06 482.70,502.29 484.74,501.51 486.77,500.74 488.81,499.98 490.84,499.22 492.87,498.47 494.91,497.73 496.94,497.00 498.98,496.28 501.01,495.56 503.04,494.83 505.08,494.10 507.11,493.36 509.15,492.59 511.18,491.81 513.21,491.00 515.25,490.18 517.28,489.34 519.32,488.49 521.35,487.63 523.38,486.76 525.42,485.88 527.45,484.99 529.49,484.09 531.52,483.19 533.55,482.28 535.59,481.38 537.62,480.47 539.66,479.56 541.69,478.66 543.72,477.76 545.76,476.86 547.79,475.97 549.83,475.09 551.86,474.21 553.89,473.34 555.93,472.46 557.96,471.57 560.00,470.69 562.03,469.81 564.06,468.94 566.10,468.08 568.13,467.24 570.17,466.41 572.20,465.61 574.23,464.84 576.27,464.09 578.30,463.36 580.34,462.64 582.37,461.94 584.40,461.23 586.44,460.53 588.47,459.81 590.51,459.08 592.54,458.34 594.57,457.56 596.61,456.77 598.64,455.96 600.68,455.14 602.71,454.32 604.74,453.50 606.78,452.70 608.81,451.90 610.85,451.14 612.88,450.40 614.91,449.69 616.95,449.00 618.98,448.33 621.02,447.67 623.05,447.02 625.08,446.37 627.12,445.73 629.15,445.09 631.19,444.44 633.22,443.78 635.25,443.12 637.29,442.46 639.32,441.80 641.36,441.14 643.39,440.48 645.42,439.81 647.46,439.15 649.49,438.49 651.53,437.83 653.56,437.17 655.59,436.50 657.63,435.84 659.66,435.17 661.70,434.50 663.73,433.83 665.76,433.17 667.80,432.51 669.83,431.85 671.87,431.20 673.90,430.55 675.93,429.91 677.97,429.28 680.00,428.64 682.04,428.01 684.07,427.39 686.10,426.76 688.14,426.15 690.17,425.54 692.21,424.93 694.24,424.33 696.27,423.75 698.31,423.17 700.34,422.60 702.38,422.03 704.41,421.47 706.44,420.91 708.48,420.35 710.51,419.78 712.55,419.22 714.58,418.65 716.61,418.07 718.65,417.49 720.68,416.91 722.72,416.33 724.75,415.74 726.78,415.16 728.82,414.58 730.85,413.99 732.89,413.41 734.92,412.82 736.95,412.24 738.99,411.67 741.02,411.09 743.06,410.51 745.09,409.94 747.12,409.36 749.16,408.78 751.19,408.19 753.23,407.60 755.26,407.00 757.29,406.39 759.33,405.76 761.36,405.11 763.40,404.46 765.43,403.81 767.46,403.16 769.50,402.53 771.53,401.92 773.57,401.34 775.60,400.79 777.63,400.27 779.67,399.78 781.70,399.32 783.74,398.87 785.77,398.42 787.80,397.99 789.84,397.55 791.87,397.10 793.91,396.64 795.94,396.16 797.97,395.65 800.01,395.13 802.04,394.60 804.08,394.06 806.11,393.52 808.14,392.97 810.18,392.43 812.21,391.90 814.25,391.37 816.28,390.86 818.31,390.37 820.35,389.88 822.38,389.41 824.42,388.94 826.45,388.47 828.48,388.01 830.52,387.54 832.55,387.07 834.59,386.59 836.62,386.10 838.65,385.60 840.69,385.09 842.72,384.57 844.76,384.04 846.79,383.51 848.82,382.98 850.86,382.46 852.89,381.94 854.93,381.44 856.96,380.94 858.99,380.46 861.03,379.98 863.06,379.51 865.10,379.04 867.13,378.58 869.16,378.12 871.20,377.66 873.23,377.21 875.27,376.76 877.30,376.31 879.33,375.86 881.37,375.42 883.40,374.99 885.44,374.56 887.47,374.13 889.50,373.70 891.54,373.26 893.57,372.83 895.61,372.39 897.64,371.94 899.67,371.49 901.71,371.02 903.74,370.55 905.78,370.07 907.81,369.59 909.84,369.12 911.88,368.65 913.91,368.19 915.95,367.74 917.98,367.31 920.01,366.90 922.05,366.50 924.08,366.11 926.12,365.73 928.15,365.36 930.18,364.99 932.22,364.61 934.25,364.24 936.29,363.86 938.32,363.48 940.35,363.08 942.39,362.69 944.42,362.29 946.46,361.89 948.49,361.48 950.52,361.08 952.56,360.68 954.59,360.29 956.63,359.89 958.66,359.51 960.69,359.13 962.73,358.75 964.76,358.37 966.80,358.00 968.83,357.62 970.86,357.25 972.90,356.89 974.93,356.52 976.97,356.16 979.00,355.80" fill="none" stroke="#ff0000" stroke-width="4.7" stroke-linejoin="round"/>
<polygon points="155.40,686.43 175.40,686.43 165.40,668.93" fill="#ff0000"/>
<polygon points="175.74,666.59 195.74,666.59 185.74,649.09" fill="#ff0000"/>
<polygon points="196.08,648.07 216.08,648.07 206.08,630.57" fill="#ff0000"/>
<polygon points="216.42,632.19 236.42,632.19 226.42,614.69" fill="#ff0000"/>
<polygon points="236.76,617.64 256.76,617.64 246.76,600.14" fill="#ff0000"/>
<polygon points="257.10,604.41 277.10,604.41 267.10,586.91" fill="#ff0000"/>
<polygon points="277.44,592.50 297.44,592.50 287.44,575.00" fill="#ff0000"/>
<polygon points="297.78,581.92 317.78,581.92 307.78,564.42" fill="#ff0000"/>
<polygon points="318.12,572.66 338.12,572.66 328.12,555.16" fill="#ff0000"/>
<polygon points="338.46,563.39 358.46,563.39 348.46,545.89" fill="#ff0000"/>
<polygon points="358.80,556.12 378.80,556.12 368.80,538.62" fill="#ff0000"/>
<polygon points="379.14,549.50 399.14,549.50 389.14,532.00" fill="#ff0000"/>
<polygon points="399.48,540.24 419.48,540.24 409.48,522.74" fill="#ff0000"/>
<polygon points="419.82,530.32 439.82,530.32 429.82,512.82" fill="#ff0000"/>
<polygon points="440.16,521.19 460.16,521.19 450.16,503.69" fill="#ff0000"/>
<polygon points="460.50,512.86 480.50,512.86 470.50,495.36" fill="#ff0000"/>
<polygon points="480.84,505.05 500.84,505.05 490.84,487.55" fill="#ff0000"/>
<polygon points="501.18,497.64 521.18,497.64 511.18,480.14" fill="#ff0000"/>
<polygon points="521.52,489.02 541.52,489.02 531.52,471.52" fill="#ff0000"/>
<polygon points="541.86,480.05 561.86,480.05 551.86,462.55" fill="#ff0000"/>
<polygon points="562.20,471.45 582.20,471.45 572.20,453.95" fill="#ff0000"/>
<polygon points="582.54,464.17 602.54,464.17 592.54,446.67" fill="#ff0000"/>
<polygon points="602.88,456.23 622.88,456.23 612.88,438.73" fill="#ff0000"/>
<polygon points="623.22,449.62 643.22,449.62 633.22,432.12" fill="#ff0000"/>
<polygon points="643.56,443.00 663.56,443.00 653.56,425.50" fill="#ff0000"/>
<polygon points="663.90,436.39 683.90,436.39 673.90,418.89" fill="#ff0000"/>
<polygon points="684.24,430.17 704.24,430.17 694.24,412.67" fill="#ff0000"/>
<polygon points="704.58,424.48 724.58,424.48 714.58,406.98" fill="#ff0000"/>
<polygon points="724.92,418.66 744.92,418.66 734.92,401.16" fill="#ff0000"/>
<polygon points="745.26,412.84 765.26,412.84 755.26,395.34" fill="#ff0000"/>
<polygon points="765.60,406.62 785.60,406.62 775.60,389.12" fill="#ff0000"/>
<polygon points="785.94,401.99 805.94,401.99 795.94,384.49" fill="#ff0000"/>
<polygon points="806.28,396.70 826.28,396.70 816.28,379.20" fill="#ff0000"/>
<polygon points="826.62,391.93 846.62,391.93 836.62,374.43" fill="#ff0000"/>
<polygon points="846.96,386.77 866.96,386.77 856.96,369.27" fill="#ff0000"/>
<polygon points="867.30,382.14 887.30,382.14 877.30,364.64" fill="#ff0000"/>
<polygon points="887.64,377.78 907.64,377.78 897.64,360.28" fill="#ff0000"/>
<polygon points="907.98,373.15 927.98,373.15 917.98,355.65" fill="#ff0000"/>
<polygon points="928.32,369.31 948.32,369.31 938.32,351.81" fill="#ff0000"/>
<polygon points="948.66,365.34 968.66,365.34 958.66,347.84" fill="#ff0000"/>
<polygon points="969.00,361.64 989.00,361.64 979.00,344.14" fill="#ff0000"/>
<polyline points="165.40,680.60 167.43,677.95 169.47,675.31 171.50,672.66 173.54,670.02 175.57,667.37 177.60,664.72 179.64,662.08 181.67,659.43 183.71,656.79 185.74,654.14 187.77,651.49 189.81,648.83 191.84,646.16 193.88,643.49 195.91,640.83 197.94,638.17 199.98,635.52 202.01,632.89 204.05,630.27 206.08,627.68 208.11,625.11 210.15,622.57 212.18,620.04 214.22,617.53 216.25,615.03 218.28,612.54 220.32,610.04 222.35,607.55 224.39,605.05 226.42,602.54 228.45,600.02 230.49,597.49 232.52,594.96 234.56,592.42 236.59,589.89 238.62,587.36 240.66,584.85 242.69,582.35 244.73,579.86 246.76,577.41 248.79,574.97 250.83,572.55 252.86,570.14 254.90,567.74 256.93,565.36 258.96,562.99 261.00,560.63 263.03,558.27 265.07,555.93 267.10,553.59 269.13,551.26 271.17,548.93 273.20,546.62 275.24,544.31 277.27,542.01 279.30,539.72 281.34,537.44 283.37,535.18 285.41,532.93 287.44,530.70 289.47,528.48 291.51,526.26 293.54,524.04 295.58,521.83 297.61,519.64 299.64,517.47 301.68,515.33 303.71,513.22 305.75,511.16 307.78,509.14 309.81,507.17 311.85,505.24 313.88,503.34 315.92,501.48 317.95,499.63 319.98,497.81 322.02,496.01 324.05,494.21 326.09,492.41 328.12,490.62 330.15,488.82 332.19,487.04 334.22,485.27 336.26,483.51 338.29,481.76 340.32,480.02 342.36,478.29 344.39,476.57 346.43,474.86 348.46,473.15 350.49,471.44 352.53,469.71 354.56,467.97 356.60,466.24 358.63,464.53 360.66,462.84 362.70,461.19 364.73,459.60 366.77,458.07 368.80,456.62 370.83,455.23 372.87,453.88 374.90,452.57 376.94,451.30 378.97,450.06 381.00,448.86 383.04,447.68 385.07,446.54 387.11,445.41 389.14,444.31 391.17,443.23 393.21,442.15 395.24,441.09 397.28,440.05 399.31,439.04 401.34,438.06 403.38,437.11 405.41,436.20 407.45,435.34 409.48,434.52 411.51,433.75 413.55,433.01 415.58,432.30 417.62,431.62 419.65,430.96 421.68,430.32 423.72,429.70 425.75,429.09 427.79,428.50 429.82,427.91 431.85,427.32 433.89,426.74 435.92,426.17 437.96,425.61 439.99,425.06 442.02,424.53 444.06,424.01 446.09,423.52 448.13,423.06 450.16,422.62 452.19,422.20 454.23,421.80 456.26,421.41 458.30,421.04 460.33,420.69 462.36,420.34 464.40,420.01 466.43,419.68 468.47,419.36 470.50,419.04 472.53,418.74 474.57,418.44 476.60,418.16 478.64,417.88 480.67,417.61 482.70,417.34 484.74,417.08 486.77,416.81 488.81,416.54 490.84,416.26 492.87,415.98 494.91,415.69 496.94,415.40 498.98,415.10 501.01,414.81 503.04,414.52 505.08,414.24 507.11,413.97 509.15,413.72 511.18,413.49 513.21,413.26 515.25,413.04 517.28,412.82 519.32,412.61 521.35,412.40 523.38,412.21 525.42,412.04 527.45,411.88 529.49,411.74 531.52,411.63 533.55,411.54 535.59,411.45 537.62,411.37 539.66,411.30 541.69,411.23 543.72,411.17 545.76,411.11 547.79,411.06 549.83,411.01 551.86,410.97 553.89,410.94 555.93,410.90 557.96,410.87 560.00,410.83 562.03,410.81 564.06,410.78 566.10,410.76 568.13,410.74 570.17,410.72 572.20,410.71 574.23,410.70 576.27,410.69 578.30,410.68 580.34,410.67 582.37,410.66 584.40,410.66 586.44,410.65 588.47,410.64 590.51,410.63 592.54,410.63 594.57,410.62 596.61,410.62 598.64,410.61 600.68,410.61 602.71,410.60 604.74,410.60 606.78,410.59 608.81,410.59 610.85,410.59 612.88,410.58 614.91,410.58 616.95,410.58 618.98,410.57 621.02,410.57 623.05,410.57 625.08,410.56 627.12,410.56 629.15,410.56 631.19,410.56 633.22,410.55 635.25,410.55 637.29,410.55 639.32,410.54 641.36,410.54 643.39,410.53 645.42,410.53 647.46,410.53 649.49,410.52 651.53,410.52 653.56,410.51 655.59,410.51 657.63,410.50 659.66,410.50 661.70,410.49 663.73,410.48 665.76,410.48 667.80,410.47 669.83,410.46 671.87,410.45 673.90,410.44 675.93,410.43 677.97,410.42 680.00,410.41 682.04,410.39 684.07,410.38 686.10,410.36 688.14,410.34 690.17,410.31 692.21,410.29 694.24,410.27 696.27,410.24 698.31,410.22 700.34,410.19 702.38,410.16 704.41,410.13 706.44,410.10 708.48,410.07 710.51,410.04 712.55,410.01 714.58,409.98 716.61,409.94 718.65,409.91 720.68,409.88 722.72,409.85 724.75,409.81 726.78,409.78 728.82,409.75 730.85,409.72 732.89,409.69 734.92,409.65 736.95,409.62 738.99,409.59 741.02,409.56 743.06,409.54 745.09,409.51 747.12,409.48 749.16,409.46 751.19,409.43 753.23,409.41 755.26,409.38 757.29,409.36 759.33,409.34 761.36,409.32 763.40,409.30 765.43,409.28 767.46,409.26 769.50,409.23 771.53,409.21 773.57,409.19 775.60,409.17 777.63,409.15 779.67,409.13 781.70,409.10 783.74,409.08 785.77,409.06 787.80,409.04 789.84,409.02 791.87,409.00 793.91,408.98 795.94,408.96 797.97,408.93 800.01,408.91 802.04,408.89 804.08,408.87 806.11,408.85 808.14,408.83 810.18,408.81 812.21,408.79 814.25,408.77 816.28,408.75 818.31,408.74 820.35,408.72 822.38,408.70 824.42,408.68 826.45,408.66 828.48,408.64 830.52,408.63 832.55,408.61 834.59,408.59 836.62,408.58 838.65,408.56 840.69,408.54 842.72,408.53 844.76,408.51 846.79,408.50 848.82,408.48 850.86,408.47 852.89,408.46 854.93,408.44 856.96,408.43 858.99,408.42 861.03,408.41 863.06,408.39 865.10,408.38 867.13,408.37 869.16,408.36 871.20,408.35 873.23,408.34 875.27,408.33 877.30,408.33 879.33,408.32 881.37,408.31 883.40,408.30 885.44,408.29 887.47,408.29 889.50,408.28 891.54,408.27 893.57,408.26 895.61,408.26 897.64,408.25 899.67,408.24 901.71,408.23 903.74,408.23 905.78,408.22 907.81,408.21 909.84,408.20 911.88,408.20 913.91,408.19 915.95,408.18 917.98,408.18 920.01,408.17 922.05,408.16 924.08,408.16 926.12,408.15 928.15,408.14 930.18,408.14 932.22,408.13 934.25,408.13 936.29,408.12 938.32,408.12 940.35,408.11 942.39,408.11 944.42,408.10 946.46,408.10 948.49,408.09 950.52,408.09 952.56,408.09 954.59,408.08 956.63,408.08 958.66,408.08 960.69,408.07 962.73,408.07 964.76,408.07 966.80,408.07 968.83,408.07 970.86,408.06 972.90,408.06 974.93,408.06 976.97,408.06 979.00,408.06" fill="none" stroke="#800000" stroke-width="4.7" stroke-linejoin="round"/>
<polygon points="165.40,670.10 175.90,680.60 165.40,691.10 154.90,680.60" fill="#800000"/>
<polygon points="185.74,643.64 196.24,654.14 185.74,664.64 175.24,654.14" fill="#800000"/>
<polygon points="206.08,617.18 216.58,627.68 206.08,638.18 195.58,627.68" fill="#800000"/>
<polygon points="226.42,592.04 236.92,602.54 226.42,613.04 215.92,602.54" fill="#800000"/>
<polygon points="246.76,566.91 257.26,577.41 246.76,587.91 236.26,577.41" fill="#800000"/>
<polygon points="267.10,543.09 277.60,553.59 267.10,564.09 256.60,553.59" fill="#800000"/>
<polygon points="287.44,520.20 297.94,530.70 287.44,541.20 276.94,530.70" fill="#800000"/>
<polygon points="307.78,498.64 318.28,509.14 307.78,519.64 297.28,509.14" fill="#800000"/>
<polygon points="328.12,480.12 338.62,490.62 328.12,501.12 317.62,490.62" fill="#800000"/>
<polygon points="348.46,462.65 358.96,473.15 348.46,483.65 337.96,473.15" fill="#800000"/>
<polygon points="368.80,446.12 379.30,456.62 368.80,467.12 358.30,456.62" fill="#800000"/>
<polygon points="389.14,433.81 399.64,444.31 389.14,454.81 378.64,444.31" fill="#800000"/>
<polygon points="409.48,424.02 419.98,434.52 409.48,445.02 398.98,434.52" fill="#800000"/>
<polygon points="429.82,417.41 440.32,427.91 429.82,438.41 419.32,427.91" fill="#800000"/>
<polygon points="450.16,412.12 460.66,422.62 450.16,433.12 439.66,422.62" fill="#800000"/>
<polygon points="470.50,408.54 481.00,419.04 470.50,429.54 460.00,419.04" fill="#800000"/>
<polygon points="490.84,405.76 501.34,416.26 490.84,426.76 480.34,416.26" fill="#800000"/>
<polygon points="511.18,402.99 521.68,413.49 511.18,423.99 500.68,413.49" fill="#800000"/>
<polygon points="531.52,401.13 542.02,411.63 531.52,422.13 521.02,411.63" fill="#800000"/>
<polygon points="551.86,400.47 562.36,410.97 551.86,421.47 541.36,410.97" fill="#800000"/>
<polygon points="572.20,400.21 582.70,410.71 572.20,421.21 561.70,410.71" fill="#800000"/>
<polygon points="592.54,400.13 603.04,410.63 592.54,421.13 582.04,410.63" fill="#800000"/>
<polygon points="612.88,400.08 623.38,410.58 612.88,421.08 602.38,410.58" fill="#800000"/>
<polygon points="633.22,400.05 643.72,410.55 633.22,421.05 622.72,410.55" fill="#800000"/>
<polygon points="653.56,400.01 664.06,410.51 653.56,421.01 643.06,410.51" fill="#800000"/>
<polygon points="673.90,399.94 684.40,410.44 673.90,420.94 663.40,410.44" fill="#800000"/>
<polygon points="694.24,399.77 704.74,410.27 694.24,420.77 683.74,410.27" fill="#800000"/>
<polygon points="714.58,399.48 725.08,409.98 714.58,420.48 704.08,409.98" fill="#800000"/>
<polygon points="734.92,399.15 745.42,409.65 734.92,420.15 724.42,409.65" fill="#800000"/>
<polygon points="755.26,398.88 765.76,409.38 755.26,419.88 744.76,409.38" fill="#800000"/>
<polygon points="775.60,398.67 786.10,409.17 775.60,419.67 765.10,409.17" fill="#800000"/>
<polygon points="795.94,398.46 806.44,408.96 795.94,419.46 785.44,408.96" fill="#800000"/>
<polygon points="816.28,398.25 826.78,408.75 816.28,419.25 805.78,408.75" fill="#800000"/>
<polygon points="836.62,398.08 847.12,408.58 836.62,419.08 826.12,408.58" fill="#800000"/>
<polygon points="856.96,397.93 867.46,408.43 856.96,418.93 846.46,408.43" fill="#800000"/>
<polygon points="877.30,397.83 887.80,408.33 877.30,418.83 866.80,408.33" fill="#800000"/>
<polygon points="897.64,397.75 908.14,408.25 897.64,418.75 887.14,408.25" fill="#800000"/>
<polygon points="917.98,397.68 928.48,408.18 917.98,418.68 907.48,408.18" fill="#800000"/>
<polygon points="938.32,397.62 948.82,408.12 938.32,418.62 927.82,408.12" fill="#800000"/>
<polygon points="958.66,397.58 969.16,408.08 958.66,418.58 948.16,408.08" fill="#800000"/>
<polygon points="979.00,397.56 989.50,408.06 979.00,418.56 968.50,408.06" fill="#800000"/>
<polyline points="165.40,680.60 167.43,679.48 169.47,678.38 171.50,677.28 173.54,676.20 175.57,675.14 177.60,674.08 179.64,673.05 181.67,672.02 183.71,671.01 185.74,670.02 187.77,669.04 189.81,668.08 191.84,667.15 193.88,666.22 195.91,665.31 197.94,664.40 199.98,663.49 202.01,662.59 204.05,661.68 206.08,660.75 208.11,659.83 210.15,658.89 212.18,657.96 214.22,657.02 216.25,656.09 218.28,655.16 220.32,654.23 222.35,653.31 224.39,652.40 226.42,651.49 228.45,650.60 230.49,649.71 232.52,648.84 234.56,647.96 236.59,647.10 238.62,646.23 240.66,645.37 242.69,644.50 244.73,643.63 246.76,642.76 248.79,641.89 250.83,641.01 252.86,640.13 254.90,639.26 256.93,638.38 258.96,637.50 261.00,636.63 263.03,635.76 265.07,634.89 267.10,634.03 269.13,633.17 271.17,632.32 273.20,631.47 275.24,630.62 277.27,629.78 279.30,628.94 281.34,628.10 283.37,627.25 285.41,626.41 287.44,625.56 289.47,624.72 291.51,623.87 293.54,623.02 295.58,622.18 297.61,621.33 299.64,620.48 301.68,619.64 303.71,618.79 305.75,617.94 307.78,617.10 309.81,616.25 311.85,615.40 313.88,614.55 315.92,613.70 317.95,612.85 319.98,612.00 322.02,611.15 324.05,610.31 326.09,609.46 328.12,608.63 330.15,607.80 332.19,606.97 334.22,606.14 336.26,605.32 338.29,604.50 340.32,603.69 342.36,602.87 344.39,602.05 346.43,601.24 348.46,600.43 350.49,599.61 352.53,598.80 354.56,597.99 356.60,597.18 358.63,596.37 360.66,595.57 362.70,594.76 364.73,593.96 366.77,593.16 368.80,592.36 370.83,591.55 372.87,590.74 374.90,589.93 376.94,589.12 378.97,588.31 381.00,587.51 383.04,586.71 385.07,585.93 387.11,585.17 389.14,584.42 391.17,583.69 393.21,582.98 395.24,582.28 397.28,581.59 399.31,580.91 401.34,580.23 403.38,579.56 405.41,578.89 407.45,578.22 409.48,577.54 411.51,576.86 413.55,576.18 415.58,575.50 417.62,574.82 419.65,574.15 421.68,573.47 423.72,572.80 425.75,572.13 427.79,571.46 429.82,570.79 431.85,570.12 433.89,569.46 435.92,568.80 437.96,568.14 439.99,567.48 442.02,566.82 444.06,566.16 446.09,565.50 448.13,564.84 450.16,564.18 452.19,563.51 454.23,562.83 456.26,562.16 458.30,561.47 460.33,560.80 462.36,560.12 464.40,559.46 466.43,558.81 468.47,558.18 470.50,557.56 472.53,556.97 474.57,556.39 476.60,555.82 478.64,555.27 480.67,554.72 482.70,554.18 484.74,553.64 486.77,553.10 488.81,552.56 490.84,552.00 492.87,551.45 494.91,550.89 496.94,550.33 498.98,549.78 501.01,549.22 503.04,548.66 505.08,548.10 507.11,547.55 509.15,547.00 511.18,546.45 513.21,545.90 515.25,545.34 517.28,544.78 519.32,544.23 521.35,543.67 523.38,543.13 525.42,542.58 527.45,542.05 529.49,541.53 531.52,541.02 533.55,540.53 535.59,540.06 537.62,539.60 539.66,539.15 541.69,538.70 543.72,538.25 545.76,537.80 547.79,537.35 549.83,536.88 551.86,536.39 553.89,535.88 555.93,535.35 557.96,534.79 560.00,534.23 562.03,533.66 564.06,533.10 566.10,532.56 568.13,532.04 570.17,531.55 572.20,531.10 574.23,530.68 576.27,530.29 578.30,529.90 580.34,529.54 582.37,529.18 584.40,528.84 586.44,528.50 588.47,528.17 590.51,527.85 592.54,527.53 594.57,527.21 596.61,526.91 598.64,526.61 600.68,526.32 602.71,526.03 604.74,525.74 606.78,525.46 608.81,525.18 610.85,524.90 612.88,524.62 614.91,524.34 616.95,524.05 618.98,523.78 621.02,523.50 623.05,523.22 625.08,522.95 627.12,522.67 629.15,522.39 631.19,522.12 633.22,521.84 635.25,521.56 637.29,521.28 639.32,521.01 641.36,520.73 643.39,520.45 645.42,520.17 647.46,519.90 649.49,519.62 651.53,519.34 653.56,519.06 655.59,518.78 657.63,518.50 659.66,518.21 661.70,517.93 663.73,517.65 665.76,517.36 667.80,517.09 669.83,516.81 671.87,516.54 673.90,516.28 675.93,516.03 677.97,515.78 680.00,515.54 682.04,515.30 684.07,515.07 686.10,514.84 688.14,514.60 690.17,514.37 692.21,514.14 694.24,513.90 696.27,513.66 698.31,513.42 700.34,513.17 702.38,512.93 704.41,512.69 706.44,512.44 708.48,512.20 710.51,511.97 712.55,511.74 714.58,511.52 716.61,511.30 718.65,511.08 720.68,510.86 722.72,510.64 724.75,510.42 726.78,510.19 728.82,509.97 730.85,509.75 732.89,509.52 734.92,509.30 736.95,509.09 738.99,508.87 741.02,508.65 743.06,508.44 745.09,508.23 747.12,508.03 749.16,507.82 751.19,507.63 753.23,507.43 755.26,507.24 757.29,507.06 759.33,506.88 761.36,506.71 763.40,506.54 765.43,506.38 767.46,506.23 769.50,506.09 771.53,505.95 773.57,505.82 775.60,505.70 777.63,505.58 779.67,505.47 781.70,505.36 783.74,505.25 785.77,505.15 787.80,505.04 789.84,504.94 791.87,504.84 793.91,504.74 795.94,504.65 797.97,504.56 800.01,504.46 802.04,504.38 804.08,504.29 806.11,504.20 808.14,504.12 810.18,504.03 812.21,503.95 814.25,503.87 816.28,503.79 818.31,503.71 820.35,503.64 822.38,503.56 824.42,503.49 826.45,503.42 828.48,503.34 830.52,503.27 832.55,503.20 834.59,503.13 836.62,503.06 838.65,502.99 840.69,502.93 842.72,502.86 844.76,502.79 846.79,502.73 848.82,502.66 850.86,502.59 852.89,502.53 854.93,502.46 856.96,502.40 858.99,502.33 861.03,502.27 863.06,502.20 865.10,502.13 867.13,502.07 869.16,502.00 871.20,501.93 873.23,501.87 875.27,501.80 877.30,501.73 879.33,501.66 881.37,501.59 883.40,501.52 885.44,501.46 887.47,501.39 889.50,501.32 891.54,501.25 893.57,501.19 895.61,501.12 897.64,501.06 899.67,500.99 901.71,500.92 903.74,500.86 905.78,500.79 907.81,500.73 909.84,500.66 911.88,500.60 913.91,500.54 915.95,500.47 917.98,500.41 920.01,500.35 922.05,500.29 924.08,500.22 926.12,500.16 928.15,500.10 930.18,500.04 932.22,499.98 934.25,499.92 936.29,499.86 938.32,499.80 940.35,499.74 942.39,499.68 944.42,499.62 946.46,499.56 948.49,499.51 950.52,499.45 952.56,499.39 954.59,499.34 956.63,499.28 958.66,499.22 960.69,499.17 962.73,499.11 964.76,499.06 966.80,499.00 968.83,498.95 970.86,498.90 972.90,498.84 974.93,498.79 976.97,498.74 979.00,498.69" fill="none" stroke="#ff00ff" stroke-width="4.7" stroke-linejoin="round"/>
<polygon points="170.23,670.60 170.23,690.60 155.73,680.60" fill="#ff00ff"/>
<polygon points="190.57,660.02 190.57,680.02 176.07,670.02" fill="#ff00ff"/>
<polygon points="210.91,650.75 210.91,670.75 196.41,660.75" fill="#ff00ff"/>
<polygon points="231.25,641.49 231.25,661.49 216.75,651.49" fill="#ff00ff"/>
<polygon points="251.59,632.76 251.59,652.76 237.09,642.76" fill="#ff00ff"/>
<polygon points="271.93,624.03 271.93,644.03 257.43,634.03" fill="#ff00ff"/>
<polygon points="292.27,615.56 292.27,635.56 277.77,625.56" fill="#ff00ff"/>
<polygon points="312.61,607.10 312.61,627.10 298.11,617.10" fill="#ff00ff"/>
<polygon points="332.95,598.63 332.95,618.63 318.45,608.63" fill="#ff00ff"/>
<polygon points="353.29,590.43 353.29,610.43 338.79,600.43" fill="#ff00ff"/>
<polygon points="373.63,582.36 373.63,602.36 359.13,592.36" fill="#ff00ff"/>
<polygon points="393.97,574.42 393.97,594.42 379.47,584.42" fill="#ff00ff"/>
<polygon points="414.31,567.54 414.31,587.54 399.81,577.54" fill="#ff00ff"/>
<polygon points="434.65,560.79 434.65,580.79 420.15,570.79" fill="#ff00ff"/>
<polygon points="454.99,554.18 454.99,574.18 440.49,564.18" fill="#ff00ff"/>
<polygon points="475.33,547.56 475.33,567.56 460.83,557.56" fill="#ff00ff"/>
<polygon points="495.67,542.00 495.67,562.00 481.17,552.00" fill="#ff00ff"/>
<polygon points="516.01,536.45 516.01,556.45 501.51,546.45" fill="#ff00ff"/>
<polygon points="536.35,531.02 536.35,551.02 521.85,541.02" fill="#ff00ff"/>
<polygon points="556.69,526.39 556.69,546.39 542.19,536.39" fill="#ff00ff"/>
<polygon points="577.03,521.10 577.03,541.10 562.53,531.10" fill="#ff00ff"/>
<polygon points="597.37,517.53 597.37,537.53 582.87,527.53" fill="#ff00ff"/>
<polygon points="617.71,514.62 617.71,534.62 603.21,524.62" fill="#ff00ff"/>
<polygon points="638.05,511.84 638.05,531.84 623.55,521.84" fill="#ff00ff"/>
<polygon points="658.39,509.06 658.39,529.06 643.89,519.06" fill="#ff00ff"/>
<polygon points="678.73,506.28 678.73,526.28 664.23,516.28" fill="#ff00ff"/>
<polygon points="699.07,503.90 699.07,523.90 684.57,513.90" fill="#ff00ff"/>
<polygon points="719.41,501.52 719.41,521.52 704.91,511.52" fill="#ff00ff"/>
<polygon points="739.75,499.30 739.75,519.30 725.25,509.30" fill="#ff00ff"/>
<polygon points="760.09,497.24 760.09,517.24 745.59,507.24" fill="#ff00ff"/>
<polygon points="780.43,495.70 780.43,515.70 765.93,505.70" fill="#ff00ff"/>
<polygon points="800.77,494.65 800.77,514.65 786.27,504.65" fill="#ff00ff"/>
<polygon points="821.11,493.79 821.11,513.79 806.61,503.79" fill="#ff00ff"/>
<polygon points="841.45,493.06 841.45,513.06 826.95,503.06" fill="#ff00ff"/>
<polygon points="861.79,492.40 861.79,512.40 847.29,502.40" fill="#ff00ff"/>
<polygon points="882.13,491.73 882.13,511.73 867.63,501.73" fill="#ff00ff"/>
<polygon points="902.47,491.06 902.47,511.06 887.97,501.06" fill="#ff00ff"/>
<polygon points="922.81,490.41 922.81,510.41 908.31,500.41" fill="#ff00ff"/>
<polygon points="943.15,489.80 943.15,509.80 928.65,499.80" fill="#ff00ff"/>
<polygon points="963.49,489.22 963.49,509.22 948.99,499.22" fill="#ff00ff"/>
<polygon points="983.83,488.69 983.83,508.69 969.33,498.69" fill="#ff00ff"/>
</g>
<line x1="165.40" y1="707.40" x2="165.40" y2="693.90" stroke="#000" stroke-width="4.8"/>
<line x1="246.76" y1="707.40" x2="246.76" y2="700.60" stroke="#000" stroke-width="4.8"/>
<line x1="328.12" y1="707.40" x2="328.12" y2="693.90" stroke="#000" stroke-width="4.8"/>
<line x1="409.48" y1="707.40" x2="409.48" y2="700.60" stroke="#000" stroke-width="4.8"/>
<line x1="490.84" y1="707.40" x2="490.84" y2="693.90" stroke="#000" stroke-width="4.8"/>
<line x1="572.20" y1="707.40" x2="572.20" y2="700.60" stroke="#000" stroke-width="4.8"/>
<line x1="653.56" y1="707.40" x2="653.56" y2="693.90" stroke="#000" stroke-width="4.8"/>
<line x1="734.92" y1="707.40" x2="734.92" y2="700.60" stroke="#000" stroke-width="4.8"/>
<line x1="816.28" y1="707.40" x2="816.28" y2="693.90" stroke="#000" stroke-width="4.8"/>
<line x1="897.64" y1="707.40" x2="897.64" y2="700.60" stroke="#000" stroke-width="4.8"/>
<line x1="124.50" y1="680.60" x2="138.00" y2="680.60" stroke="#000" stroke-width="4.8"/>
<line x1="124.50" y1="614.45" x2="131.30" y2="614.45" stroke="#000" stroke-width="4.8"/>
<line x1="124.50" y1="548.30" x2="138.00" y2="548.30" stroke="#000" stroke-width="4.8"/>
<line x1="124.50" y1="482.15" x2="131.30" y2="482.15" stroke="#000" stroke-width="4.8"/>
<line x1="124.50" y1="416.00" x2="138.00" y2="416.00" stroke="#000" stroke-width="4.8"/>
<line x1="124.50" y1="349.85" x2="131.30" y2="349.85" stroke="#000" stroke-width="4.8"/>
<line x1="124.50" y1="283.70" x2="138.00" y2="283.70" stroke="#000" stroke-width="4.8"/>
<line x1="124.50" y1="217.55" x2="131.30" y2="217.55" stroke="#000" stroke-width="4.8"/>
<line x1="124.50" y1="151.40" x2="138.00" y2="151.40" stroke="#000" stroke-width="4.8"/>
<line x1="124.50" y1="85.25" x2="131.30" y2="85.25" stroke="#000" stroke-width="4.8"/>
<rect x="124.50" y="19.40" width="854.30" height="688.00" fill="none" stroke="#000" stroke-width="4.8"/>
<line x1="135.8" y1="45.2" x2="206.4" y2="45.2" stroke="#000" stroke-width="4.8" stroke-linecap="round"/>
<polygon points="171.10,35.50 173.69,41.73 180.42,42.27 175.29,46.66 176.86,53.23 171.10,49.71 165.34,53.23 166.91,46.66 161.78,42.27 168.51,41.73" fill="#000"/>
<text transform="translate(215.5,55.8) scale(1,1.04)" font-family="Liberation Sans, sans-serif" font-weight="bold" font-size="31.5">Exp.<tspan font-size="21.5" dy="-12.5" dx="-1">12</tspan></text>
<line x1="340.8" y1="45.2" x2="410.4" y2="45.2" stroke="#0000ff" stroke-width="4.8" stroke-linecap="round"/>
<circle cx="374.9" cy="45.2" r="8.2" fill="#0000ff"/>
<text transform="translate(419.5,55.8) scale(1,1.04)" font-family="Liberation Sans, sans-serif" font-weight="bold" font-size="31.5">Conv.-GO<tspan font-size="21.5" dy="-12.5">15</tspan></text>
<line x1="598.4" y1="45.2" x2="668.0" y2="45.2" stroke="#ff0000" stroke-width="4.8" stroke-linecap="round"/>
<polygon points="622.90,51.03 642.90,51.03 632.90,33.53" fill="#ff0000"/>
<text transform="translate(676.8,55.8) scale(1,1.04)" font-family="Liberation Sans, sans-serif" font-weight="bold" font-size="31.5">GO/G<tspan font-size="21.5" dy="-12.5">15</tspan></text>
<line x1="135.8" y1="88.7" x2="206.4" y2="88.7" stroke="#800000" stroke-width="4.8" stroke-linecap="round"/>
<polygon points="171.10,78.30 181.30,88.50 171.10,98.70 160.90,88.50" fill="#800000"/>
<text transform="translate(215.5,99.6) scale(1,1.04)" font-family="Liberation Sans, sans-serif" font-weight="bold" font-size="31.5">NiO-GO<tspan font-size="21.5" dy="-12.5" dx="8">24</tspan></text>
<line x1="389.5" y1="88.8" x2="459.1" y2="88.8" stroke="#ff00ff" stroke-width="4.8" stroke-linecap="round"/>
<polygon points="430.03,78.80 430.03,98.80 415.53,88.80" fill="#ff00ff"/>
<text transform="translate(468.5,99.6) scale(1,1.04)" font-family="Liberation Sans, sans-serif" font-weight="bold" font-size="31.5">NiO-GO/G</text>
<text transform="translate(109.8,694.60) scale(1,1.05)" font-family="Liberation Sans, sans-serif" font-weight="bold" font-size="46" text-anchor="end">0</text>
<text transform="translate(109.8,562.30) scale(1,1.05)" font-family="Liberation Sans, sans-serif" font-weight="bold" font-size="46" text-anchor="end">10</text>
<text transform="translate(109.8,430.00) scale(1,1.05)" font-family="Liberation Sans, sans-serif" font-weight="bold" font-size="46" text-anchor="end">20</text>
<text transform="translate(109.8,297.70) scale(1,1.05)" font-family="Liberation Sans, sans-serif" font-weight="bold" font-size="46" text-anchor="end">30</text>
<text transform="translate(109.8,165.40) scale(1,1.05)" font-family="Liberation Sans, sans-serif" font-weight="bold" font-size="46" text-anchor="end">40</text>
<text transform="translate(109.8,33.10) scale(1,1.05)" font-family="Liberation Sans, sans-serif" font-weight="bold" font-size="46" text-anchor="end">50</text>
<text x="165.40" y="755.5" font-family="Liberation Sans, sans-serif" font-weight="bold" font-size="43.5" text-anchor="middle">0</text>
<text x="328.12" y="755.5" font-family="Liberation Sans, sans-serif" font-weight="bold" font-size="43.5" text-anchor="middle">8</text>
<text x="490.84" y="755.5" font-family="Liberation Sans, sans-serif" font-weight="bold" font-size="43.5" text-anchor="middle">16</text>
<text x="653.56" y="755.5" font-family="Liberation Sans, sans-serif" font-weight="bold" font-size="43.5" text-anchor="middle">24</text>
<text x="816.28" y="755.5" font-family="Liberation Sans, sans-serif" font-weight="bold" font-size="43.5" text-anchor="middle">32</text>
<text x="979.00" y="755.5" font-family="Liberation Sans, sans-serif" font-weight="bold" font-size="43.5" text-anchor="middle">40</text>
<text x="476" y="813.4" font-family="Liberation Sans, sans-serif" font-weight="bold" font-size="47">V<tspan font-size="31" dy="12">DS</tspan><tspan dy="-12"> (V)</tspan></text>
<text transform="translate(33,496.5) rotate(-90)" font-family="Liberation Sans, sans-serif" font-weight="bold" font-size="46.5">I<tspan font-size="31.5" dy="13">DS</tspan><tspan dy="-13" letter-spacing="-0.95">(mA/mm)</tspan></text>
<text x="668.4" y="153.9" font-family="Liberation Sans, sans-serif" font-weight="bold" font-size="38.5">V</text>
<text x="693.4" y="163.3" font-family="Liberation Sans, sans-serif" font-weight="bold" font-size="25">GS</text>
<text x="729.8" y="153.9" font-family="Liberation Sans, sans-serif" font-weight="bold" font-size="38.5">=</text>
<text x="762.0" y="153.9" font-family="Liberation Sans, sans-serif" font-weight="bold" font-size="38.5">4V</text>
<text x="633.1" y="310" font-family="Liberation Sans, sans-serif" font-weight="bold" font-size="42">V</text>
<text x="661.2" y="321" font-family="Liberation Sans, sans-serif" font-weight="bold" font-size="27">GS</text>
<text x="701.1" y="310" font-family="Liberation Sans, sans-serif" font-weight="bold" font-size="42">=</text>
<text x="736.2" y="310" font-family="Liberation Sans, sans-serif" font-weight="bold" font-size="42">0V</text>
<text x="626.8" y="614.2" font-family="Liberation Sans, sans-serif" font-weight="bold" font-size="38.5">V</text>
<text x="651.4" y="623.7" font-family="Liberation Sans, sans-serif" font-weight="bold" font-size="25.5">GS</text>
<text x="687.8" y="614.2" font-family="Liberation Sans, sans-serif" font-weight="bold" font-size="38.5">=</text>
<text x="721.1" y="614.2" font-family="Liberation Sans, sans-serif" font-weight="bold" font-size="38.5">-</text>
<text x="743.4" y="614.2" font-family="Liberation Sans, sans-serif" font-weight="bold" font-size="38.5">4V</text>
</svg></body></html>
